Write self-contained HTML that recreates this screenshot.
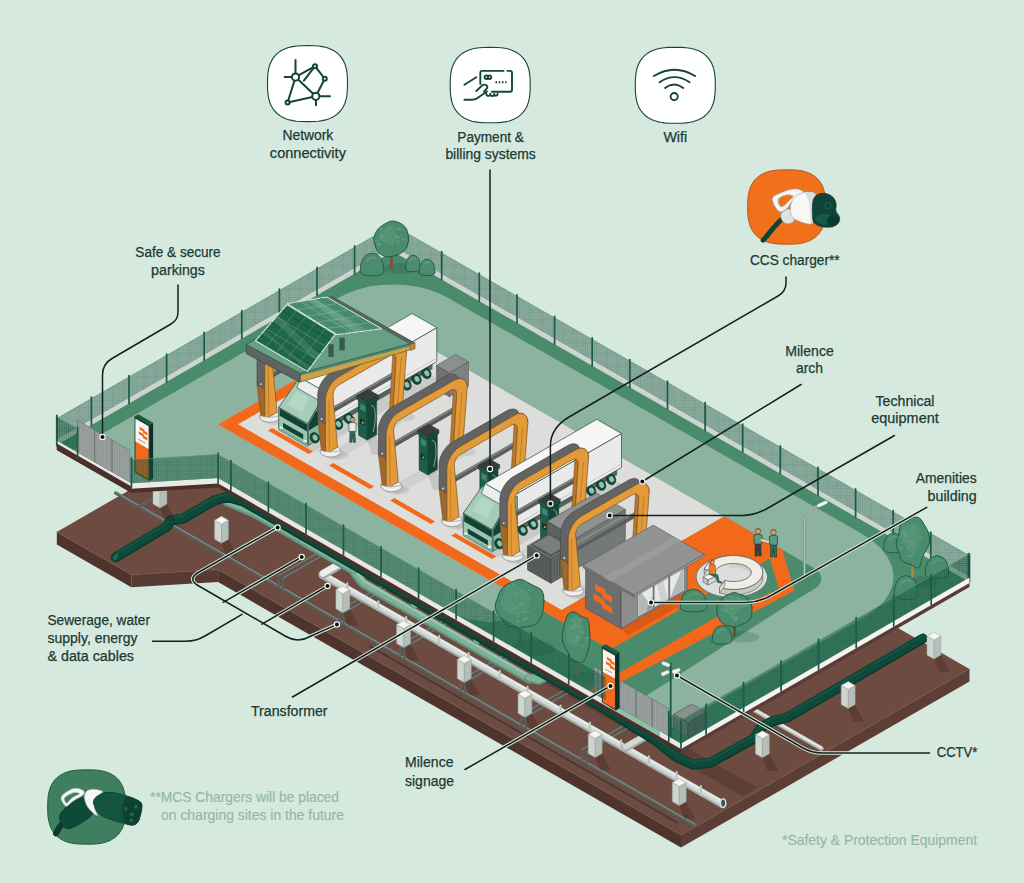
<!DOCTYPE html>
<html lang="en"><head><meta charset="utf-8"><title>Milence charging hub</title>
<style>
html,body{margin:0;padding:0;background:#d6e9df;}
body{width:1024px;height:883px;overflow:hidden;font-family:"Liberation Sans",sans-serif;}
svg{display:block}
text{font-family:"Liberation Sans",sans-serif;}
</style></head><body>
<svg width="1024" height="883" viewBox="0 0 1024 883">
<rect x="0" y="0" width="1024" height="883" fill="#d6e9df"/>
<g id="underground">
<polygon points="393.0,338.5 969.5,669.0 681.0,835.0 218.1,569.6 131.4,574.7 56.8,531.9" fill="#6d4b41" />
<polygon points="969.5,669.0 681.0,835.0 681.0,847.5 969.5,681.5" fill="#5c3e35" />
<polygon points="681.0,835.0 218.1,569.6 218.1,582.1 681.0,847.5" fill="#4f342d" />
<polygon points="218.1,569.6 131.4,574.7 131.4,587.2 218.1,582.1" fill="#573a32" />
<polygon points="131.4,574.7 56.8,531.9 56.8,544.4 131.4,587.2" fill="#4f342d" />
<polyline points="969.5,669.0 681.0,835.0 218.1,569.6 131.4,574.7 56.8,531.9" fill="none" stroke="#7a574c" stroke-width="0.6" stroke-linecap="round" stroke-linejoin="round" />
<polygon points="294.3,522.2 757.2,787.6 742.5,796.1 279.6,530.7" fill="#5d3f37" />
<polyline points="115.8,493.0 694.8,825.0" fill="none" stroke="#55625d" stroke-width="3.4" stroke-linecap="round" stroke-linejoin="round" />
<polyline points="115.8,492.1 694.8,824.1" fill="none" stroke="#8a9993" stroke-width="1.0" stroke-linecap="round" stroke-linejoin="round" />
<polyline points="369.8,646.3 677.5,822.7" fill="none" stroke="#3c3a36" stroke-width="1.6" stroke-linecap="round" stroke-linejoin="round" />
<polyline points="278.7,586.5 278.7,576.0 339.4,541.1" fill="none" stroke="#55625d" stroke-width="2.0" stroke-linecap="round" stroke-linejoin="round" />
<polyline points="278.7,575.4 339.4,540.5" fill="none" stroke="#8a9993" stroke-width="0.6" stroke-linecap="round" stroke-linejoin="round" />
<polyline points="283.1,588.9 283.1,578.4 343.7,543.5" fill="none" stroke="#55625d" stroke-width="2.0" stroke-linecap="round" stroke-linejoin="round" />
<polyline points="283.1,577.8 343.7,542.9" fill="none" stroke="#8a9993" stroke-width="0.6" stroke-linecap="round" stroke-linejoin="round" />
<polyline points="339.4,621.2 339.4,610.7 400.1,575.9" fill="none" stroke="#55625d" stroke-width="2.0" stroke-linecap="round" stroke-linejoin="round" />
<polyline points="339.4,610.1 400.1,575.3" fill="none" stroke="#8a9993" stroke-width="0.6" stroke-linecap="round" stroke-linejoin="round" />
<polyline points="343.7,623.7 343.7,613.2 404.4,578.3" fill="none" stroke="#55625d" stroke-width="2.0" stroke-linecap="round" stroke-linejoin="round" />
<polyline points="343.7,612.6 404.4,577.7" fill="none" stroke="#8a9993" stroke-width="0.6" stroke-linecap="round" stroke-linejoin="round" />
<polyline points="400.1,656.0 400.1,645.5 460.7,610.6" fill="none" stroke="#55625d" stroke-width="2.0" stroke-linecap="round" stroke-linejoin="round" />
<polyline points="400.1,644.9 460.7,610.0" fill="none" stroke="#8a9993" stroke-width="0.6" stroke-linecap="round" stroke-linejoin="round" />
<polyline points="404.4,658.5 404.4,648.0 465.1,613.1" fill="none" stroke="#55625d" stroke-width="2.0" stroke-linecap="round" stroke-linejoin="round" />
<polyline points="404.4,647.4 465.1,612.5" fill="none" stroke="#8a9993" stroke-width="0.6" stroke-linecap="round" stroke-linejoin="round" />
<polyline points="460.8,690.8 460.8,680.3 521.4,645.4" fill="none" stroke="#55625d" stroke-width="2.0" stroke-linecap="round" stroke-linejoin="round" />
<polyline points="460.8,679.7 521.4,644.8" fill="none" stroke="#8a9993" stroke-width="0.6" stroke-linecap="round" stroke-linejoin="round" />
<polyline points="465.1,693.3 465.1,682.8 525.8,647.9" fill="none" stroke="#55625d" stroke-width="2.0" stroke-linecap="round" stroke-linejoin="round" />
<polyline points="465.1,682.2 525.8,647.3" fill="none" stroke="#8a9993" stroke-width="0.6" stroke-linecap="round" stroke-linejoin="round" />
<polyline points="521.5,725.6 521.5,715.1 582.1,680.2" fill="none" stroke="#55625d" stroke-width="2.0" stroke-linecap="round" stroke-linejoin="round" />
<polyline points="521.5,714.5 582.1,679.6" fill="none" stroke="#8a9993" stroke-width="0.6" stroke-linecap="round" stroke-linejoin="round" />
<polyline points="525.8,728.1 525.8,717.6 586.4,682.7" fill="none" stroke="#55625d" stroke-width="2.0" stroke-linecap="round" stroke-linejoin="round" />
<polyline points="525.8,717.0 586.4,682.1" fill="none" stroke="#8a9993" stroke-width="0.6" stroke-linecap="round" stroke-linejoin="round" />
<polyline points="582.1,760.4 582.1,749.9 642.8,715.0" fill="none" stroke="#55625d" stroke-width="2.0" stroke-linecap="round" stroke-linejoin="round" />
<polyline points="582.1,749.3 642.8,714.4" fill="none" stroke="#8a9993" stroke-width="0.6" stroke-linecap="round" stroke-linejoin="round" />
<polyline points="586.5,762.9 586.5,752.4 647.1,717.5" fill="none" stroke="#55625d" stroke-width="2.0" stroke-linecap="round" stroke-linejoin="round" />
<polyline points="586.5,751.8 647.1,716.9" fill="none" stroke="#8a9993" stroke-width="0.6" stroke-linecap="round" stroke-linejoin="round" />
<polyline points="139.2,506.4 156.5,496.5" fill="none" stroke="#55625d" stroke-width="3.0" stroke-linecap="round" stroke-linejoin="round" />
<polyline points="322.9,575.3 722.6,804.4" fill="none" stroke="#a3aea9" stroke-width="7.8" stroke-linecap="round" stroke-linejoin="round" />
<polyline points="322.9,574.2 722.6,803.3" fill="none" stroke="#d2d8d5" stroke-width="5.6" stroke-linecap="round" stroke-linejoin="round" />
<polyline points="322.9,572.7 722.6,801.8" fill="none" stroke="#e9eceb" stroke-width="1.8" stroke-linecap="round" stroke-linejoin="round" />
<polyline points="347.2,592.2 347.2,583.4" fill="none" stroke="#b9c9c1" stroke-width="2.2" stroke-linecap="round" stroke-linejoin="round" />
<polyline points="378.4,610.1 378.4,601.3" fill="none" stroke="#b9c9c1" stroke-width="2.2" stroke-linecap="round" stroke-linejoin="round" />
<polyline points="406.1,626.0 406.1,617.2" fill="none" stroke="#b9c9c1" stroke-width="2.2" stroke-linecap="round" stroke-linejoin="round" />
<polyline points="439.1,644.9 439.1,636.1" fill="none" stroke="#b9c9c1" stroke-width="2.2" stroke-linecap="round" stroke-linejoin="round" />
<polyline points="468.6,661.8 468.6,653.0" fill="none" stroke="#b9c9c1" stroke-width="2.2" stroke-linecap="round" stroke-linejoin="round" />
<polyline points="499.8,679.6 499.8,670.8" fill="none" stroke="#b9c9c1" stroke-width="2.2" stroke-linecap="round" stroke-linejoin="round" />
<polyline points="527.5,695.6 527.5,686.8" fill="none" stroke="#b9c9c1" stroke-width="2.2" stroke-linecap="round" stroke-linejoin="round" />
<polyline points="560.5,714.4 560.5,705.6" fill="none" stroke="#b9c9c1" stroke-width="2.2" stroke-linecap="round" stroke-linejoin="round" />
<polyline points="589.9,731.3 589.9,722.5" fill="none" stroke="#b9c9c1" stroke-width="2.2" stroke-linecap="round" stroke-linejoin="round" />
<polyline points="621.1,749.2 621.1,740.4" fill="none" stroke="#b9c9c1" stroke-width="2.2" stroke-linecap="round" stroke-linejoin="round" />
<polyline points="648.9,765.1 648.9,756.3" fill="none" stroke="#b9c9c1" stroke-width="2.2" stroke-linecap="round" stroke-linejoin="round" />
<polyline points="676.6,781.0 676.6,772.2" fill="none" stroke="#b9c9c1" stroke-width="2.2" stroke-linecap="round" stroke-linejoin="round" />
<polyline points="700.9,795.0 700.9,786.2" fill="none" stroke="#b9c9c1" stroke-width="2.2" stroke-linecap="round" stroke-linejoin="round" />
<polyline points="322.9,574.5 337.7,566.0" fill="none" stroke="#a3aea9" stroke-width="9" stroke-linecap="round" stroke-linejoin="round" />
<polyline points="322.9,573.5 337.7,565.0" fill="none" stroke="#eceeed" stroke-width="6.5" stroke-linecap="round" stroke-linejoin="round" />
<polyline points="625.5,747.9 648.9,734.5" fill="none" stroke="#a3aea9" stroke-width="8" stroke-linecap="round" stroke-linejoin="round" />
<polyline points="625.5,746.9 648.9,733.5" fill="none" stroke="#d2d8d5" stroke-width="5.5" stroke-linecap="round" stroke-linejoin="round" />
<ellipse cx="723.1" cy="803.1" rx="2.6" ry="4.2" fill="#3d5a50" stroke="#dfe5e2" stroke-width="1.3"/>
<polyline points="752.0,708.8 821.3,748.5" fill="none" stroke="#a3aea9" stroke-width="4.6" stroke-linecap="round" stroke-linejoin="round" />
<polyline points="752.0,708.0 821.3,747.7" fill="none" stroke="#dfe4e1" stroke-width="2.8" stroke-linecap="round" stroke-linejoin="round" />
<polyline points="226.7,501.4 252.7,512.3 352.4,569.5 357.6,576.4 363.7,583.9 529.2,678.8" fill="none" stroke="#5f957d" stroke-width="9.5" stroke-linecap="round" stroke-linejoin="round" />
<polyline points="226.7,500.4 252.7,511.3 352.4,568.5 357.6,575.4 363.7,582.9 529.2,677.8" fill="none" stroke="#7fb09a" stroke-width="7.0" stroke-linecap="round" stroke-linejoin="round" />
<polyline points="226.7,498.4 252.7,509.3 352.4,566.5 357.6,573.4 363.7,580.9 529.2,675.8" fill="none" stroke="#9cc6b2" stroke-width="2.0" stroke-linecap="round" stroke-linejoin="round" />
<polyline points="297.8,537.2 297.8,515.2" fill="none" stroke="#5f957d" stroke-width="8.5" stroke-linecap="round" stroke-linejoin="round" stroke-linecap="butt"/>
<polyline points="297.8,537.2 297.8,515.2" fill="none" stroke="#7fb09a" stroke-width="6.5" stroke-linecap="round" stroke-linejoin="round" stroke-linecap="butt"/>
<polyline points="354.1,569.5 354.1,547.5" fill="none" stroke="#5f957d" stroke-width="8.5" stroke-linecap="round" stroke-linejoin="round" stroke-linecap="butt"/>
<polyline points="354.1,569.5 354.1,547.5" fill="none" stroke="#7fb09a" stroke-width="6.5" stroke-linecap="round" stroke-linejoin="round" stroke-linecap="butt"/>
<polyline points="414.8,604.2 414.8,582.2" fill="none" stroke="#5f957d" stroke-width="8.5" stroke-linecap="round" stroke-linejoin="round" stroke-linecap="butt"/>
<polyline points="414.8,604.2 414.8,582.2" fill="none" stroke="#7fb09a" stroke-width="6.5" stroke-linecap="round" stroke-linejoin="round" stroke-linecap="butt"/>
<polyline points="477.2,640.0 477.2,618.0" fill="none" stroke="#5f957d" stroke-width="8.5" stroke-linecap="round" stroke-linejoin="round" stroke-linecap="butt"/>
<polyline points="477.2,640.0 477.2,618.0" fill="none" stroke="#7fb09a" stroke-width="6.5" stroke-linecap="round" stroke-linejoin="round" stroke-linecap="butt"/>
<polyline points="537.0,674.3 537.0,652.3" fill="none" stroke="#5f957d" stroke-width="8.5" stroke-linecap="round" stroke-linejoin="round" stroke-linecap="butt"/>
<polyline points="537.0,674.3 537.0,652.3" fill="none" stroke="#7fb09a" stroke-width="6.5" stroke-linecap="round" stroke-linejoin="round" stroke-linecap="butt"/>
<polyline points="529.2,677.8 538.8,680.3 547.4,676.3 552.6,669.3" fill="none" stroke="#5f957d" stroke-width="9" stroke-linecap="round" stroke-linejoin="round" />
<polyline points="529.2,677.3 538.8,679.8 547.4,675.8 552.6,669.3" fill="none" stroke="#7fb09a" stroke-width="6.5" stroke-linecap="round" stroke-linejoin="round" />
<polyline points="115.8,557.2 166.9,526.8 170.4,520.8 182.5,518.8 214.6,500.4 227.6,496.9 243.6,501.6 290.4,528.5 604.2,708.4 654.1,739.4 677.5,757.8 693.1,764.8 710.4,762.8 753.7,738.8 760.7,727.9 771.1,721.9 787.5,717.4 922.7,638.7" fill="none" stroke="#0a3a2d" stroke-width="10.0" stroke-linecap="round" stroke-linejoin="round" />
<polyline points="115.8,556.4 166.9,526.0 170.4,520.0 182.5,518.0 214.6,499.6 227.6,496.1 243.6,500.8 290.4,527.7 604.2,707.6 654.1,738.6 677.5,757.0 693.1,764.0 710.4,762.0 753.7,738.0 760.7,727.1 771.1,721.1 787.5,716.6 922.7,637.9" fill="none" stroke="#0e4a3a" stroke-width="8.2" stroke-linecap="round" stroke-linejoin="round" />
<polyline points="115.8,554.2 166.9,523.8 170.4,517.8 182.5,515.8 214.6,497.4 227.6,493.9 243.6,498.6 290.4,525.5 604.2,705.4 654.1,736.4 677.5,754.8 693.1,761.8 710.4,759.8 753.7,735.8 760.7,724.9 771.1,718.9 787.5,714.4 922.7,635.7" fill="none" stroke="#155a46" stroke-width="1.2" stroke-linecap="round" stroke-linejoin="round" />
<ellipse cx="115.8" cy="556.7" rx="2.6" ry="4.3" fill="#1d6a54" stroke="#0a3a2d" stroke-width="0.8" transform="rotate(30 115.8 556.7)"/>
<polygon points="160.0,507.9 165.2,520.9 175.6,520.8 166.9,503.9" fill="rgba(40,20,15,0.25)" />
<polygon points="153.0,503.9 160.0,507.9 160.0,488.9 153.0,484.9" fill="#cfd6d2" stroke="#9aa6a0" stroke-width="0.5" stroke-linejoin="round" />
<polygon points="166.9,503.9 160.0,507.9 160.0,488.9 166.9,484.9" fill="#b5beb9" stroke="#9aa6a0" stroke-width="0.5" stroke-linejoin="round" />
<polygon points="160.0,481.0 166.9,484.9 160.0,488.9 153.0,484.9" fill="#f4f5f4" stroke="#9aa6a0" stroke-width="0.5" stroke-linejoin="round" />
<polygon points="221.5,543.2 226.7,556.1 237.1,556.1 228.4,539.2" fill="rgba(40,20,15,0.25)" />
<polygon points="214.6,539.2 221.5,543.2 221.5,524.2 214.6,520.2" fill="#cfd6d2" stroke="#9aa6a0" stroke-width="0.5" stroke-linejoin="round" />
<polygon points="228.4,539.2 221.5,543.2 221.5,524.2 228.4,520.2" fill="#b5beb9" stroke="#9aa6a0" stroke-width="0.5" stroke-linejoin="round" />
<polygon points="221.5,516.2 228.4,520.2 221.5,524.2 214.6,520.2" fill="#f4f5f4" stroke="#9aa6a0" stroke-width="0.5" stroke-linejoin="round" />
<polygon points="342.9,612.8 348.1,625.7 358.5,625.7 349.8,608.8" fill="rgba(40,20,15,0.25)" />
<polygon points="335.9,608.8 342.9,612.8 342.9,593.8 335.9,589.8" fill="#cfd6d2" stroke="#9aa6a0" stroke-width="0.5" stroke-linejoin="round" />
<polygon points="349.8,608.8 342.9,612.8 342.9,593.8 349.8,589.8" fill="#b5beb9" stroke="#9aa6a0" stroke-width="0.5" stroke-linejoin="round" />
<polygon points="342.9,585.8 349.8,589.8 342.9,593.8 335.9,589.8" fill="#f4f5f4" stroke="#9aa6a0" stroke-width="0.5" stroke-linejoin="round" />
<polygon points="403.6,647.6 408.8,660.5 419.2,660.5 410.5,643.6" fill="rgba(40,20,15,0.25)" />
<polygon points="396.6,643.6 403.6,647.6 403.6,628.6 396.6,624.6" fill="#cfd6d2" stroke="#9aa6a0" stroke-width="0.5" stroke-linejoin="round" />
<polygon points="410.5,643.6 403.6,647.6 403.6,628.6 410.5,624.6" fill="#b5beb9" stroke="#9aa6a0" stroke-width="0.5" stroke-linejoin="round" />
<polygon points="403.6,620.6 410.5,624.6 403.6,628.6 396.6,624.6" fill="#f4f5f4" stroke="#9aa6a0" stroke-width="0.5" stroke-linejoin="round" />
<polygon points="464.2,682.4 469.4,695.3 479.8,695.3 471.2,678.4" fill="rgba(40,20,15,0.25)" />
<polygon points="457.3,678.4 464.2,682.4 464.2,663.4 457.3,659.4" fill="#cfd6d2" stroke="#9aa6a0" stroke-width="0.5" stroke-linejoin="round" />
<polygon points="471.2,678.4 464.2,682.4 464.2,663.4 471.2,659.4" fill="#b5beb9" stroke="#9aa6a0" stroke-width="0.5" stroke-linejoin="round" />
<polygon points="464.2,655.4 471.2,659.4 464.2,663.4 457.3,659.4" fill="#f4f5f4" stroke="#9aa6a0" stroke-width="0.5" stroke-linejoin="round" />
<polygon points="524.9,717.2 530.1,730.1 540.5,730.1 531.9,713.2" fill="rgba(40,20,15,0.25)" />
<polygon points="518.0,713.2 524.9,717.2 524.9,698.2 518.0,694.2" fill="#cfd6d2" stroke="#9aa6a0" stroke-width="0.5" stroke-linejoin="round" />
<polygon points="531.9,713.2 524.9,717.2 524.9,698.2 531.9,694.2" fill="#b5beb9" stroke="#9aa6a0" stroke-width="0.5" stroke-linejoin="round" />
<polygon points="524.9,690.2 531.9,694.2 524.9,698.2 518.0,694.2" fill="#f4f5f4" stroke="#9aa6a0" stroke-width="0.5" stroke-linejoin="round" />
<polygon points="595.1,757.4 600.3,770.4 610.7,770.3 602.1,753.4" fill="rgba(40,20,15,0.25)" />
<polygon points="588.2,753.4 595.1,757.4 595.1,738.4 588.2,734.4" fill="#cfd6d2" stroke="#9aa6a0" stroke-width="0.5" stroke-linejoin="round" />
<polygon points="602.1,753.4 595.1,757.4 595.1,738.4 602.1,734.4" fill="#b5beb9" stroke="#9aa6a0" stroke-width="0.5" stroke-linejoin="round" />
<polygon points="595.1,730.5 602.1,734.4 595.1,738.4 588.2,734.4" fill="#f4f5f4" stroke="#9aa6a0" stroke-width="0.5" stroke-linejoin="round" />
<polygon points="679.2,805.6 684.4,818.6 694.8,818.6 686.2,801.6" fill="rgba(40,20,15,0.25)" />
<polygon points="672.3,801.6 679.2,805.6 679.2,786.6 672.3,782.6" fill="#cfd6d2" stroke="#9aa6a0" stroke-width="0.5" stroke-linejoin="round" />
<polygon points="686.2,801.6 679.2,805.6 679.2,786.6 686.2,782.6" fill="#b5beb9" stroke="#9aa6a0" stroke-width="0.5" stroke-linejoin="round" />
<polygon points="679.2,778.7 686.2,782.6 679.2,786.6 672.3,782.6" fill="#f4f5f4" stroke="#9aa6a0" stroke-width="0.5" stroke-linejoin="round" />
<polygon points="934.0,659.1 939.2,672.0 949.6,672.0 940.9,655.1" fill="rgba(40,20,15,0.25)" />
<polygon points="927.0,655.1 934.0,659.1 934.0,640.1 927.0,636.1" fill="#cfd6d2" stroke="#9aa6a0" stroke-width="0.5" stroke-linejoin="round" />
<polygon points="940.9,655.1 934.0,659.1 934.0,640.1 940.9,636.1" fill="#b5beb9" stroke="#9aa6a0" stroke-width="0.5" stroke-linejoin="round" />
<polygon points="933.9,632.1 940.9,636.1 934.0,640.1 927.0,636.1" fill="#f4f5f4" stroke="#9aa6a0" stroke-width="0.5" stroke-linejoin="round" />
<polygon points="848.2,708.4 853.4,721.4 863.8,721.3 855.1,704.4" fill="rgba(40,20,15,0.25)" />
<polygon points="841.2,704.4 848.2,708.4 848.2,689.4 841.2,685.4" fill="#cfd6d2" stroke="#9aa6a0" stroke-width="0.5" stroke-linejoin="round" />
<polygon points="855.1,704.4 848.2,708.4 848.2,689.4 855.1,685.4" fill="#b5beb9" stroke="#9aa6a0" stroke-width="0.5" stroke-linejoin="round" />
<polygon points="848.2,681.5 855.1,685.4 848.2,689.4 841.2,685.4" fill="#f4f5f4" stroke="#9aa6a0" stroke-width="0.5" stroke-linejoin="round" />
<polygon points="762.4,757.8 767.6,770.7 778.0,770.7 769.3,753.8" fill="rgba(40,20,15,0.25)" />
<polygon points="755.5,753.8 762.4,757.8 762.4,738.8 755.5,734.8" fill="#cfd6d2" stroke="#9aa6a0" stroke-width="0.5" stroke-linejoin="round" />
<polygon points="769.3,753.8 762.4,757.8 762.4,738.8 769.3,734.8" fill="#b5beb9" stroke="#9aa6a0" stroke-width="0.5" stroke-linejoin="round" />
<polygon points="762.4,730.8 769.3,734.8 762.4,738.8 755.5,734.8" fill="#f4f5f4" stroke="#9aa6a0" stroke-width="0.5" stroke-linejoin="round" />
</g>
<g id="platform">
<polygon points="969.5,577.5 681.0,743.5 681.0,753.0 969.5,587.0" fill="#5a3c33" />
<polygon points="681.0,743.5 218.1,478.1 218.1,487.6 681.0,753.0" fill="#4a3029" />
<polygon points="218.1,478.1 131.4,483.2 131.4,492.7 218.1,487.6" fill="#4a3029" />
<polygon points="131.4,483.2 56.8,440.4 56.8,449.9 131.4,492.7" fill="#4a3029" />
<polygon points="393.0,247.0 969.5,577.5 681.0,743.5 218.1,478.1 131.4,483.2 56.8,440.4" fill="#4a8b6c" />
<polygon points="73.7,450.1 131.4,483.2 218.1,478.1 455.6,614.3 467.7,619.3 488.5,622.2 513.7,619.7 539.6,612.7 544.0,611.2 218.0,424.4 390.4,325.1 783.1,550.3 813.5,567.7 813.5,567.7 816.8,570.0 819.3,572.7 820.9,575.6 821.4,578.6 820.9,581.7 819.3,584.6 816.8,587.2 813.5,589.6 811.8,590.6 789.7,603.8 648.0,694.8 622.0,709.7 662.8,733.1 865.5,616.4 865.5,616.4 875.6,609.6 883.6,601.9 889.3,593.5 892.7,584.6 893.6,575.5 891.9,566.3 887.8,557.4 881.3,548.8 872.7,540.9 862.0,533.8 446.8,297.2 446.8,297.2 437.7,292.8 427.5,289.2 416.5,286.6 404.9,285.0 393.0,284.5 381.1,285.0 369.5,286.6 358.5,289.3 348.4,292.9 339.3,297.3 73.7,450.1" fill="#8bb39f" />
<polygon points="390.4,325.1 724.2,516.5 551.8,615.7 218.0,424.4" fill="#dddddc" />
<polygon points="392.7,416.0 403.1,422.0 337.2,459.8 326.8,453.9" fill="#cfcfce" />
<polygon points="453.3,450.8 463.7,456.7 397.9,494.6 387.5,488.7" fill="#cfcfce" />
<polygon points="514.0,485.6 524.4,491.5 458.6,529.4 448.2,523.5" fill="#cfcfce" />
<polygon points="574.7,520.4 585.1,526.3 519.3,564.2 508.9,558.2" fill="#cfcfce" />
<polygon points="635.4,555.1 645.8,561.1 579.9,599.0 569.5,593.0" fill="#cfcfce" />
<polygon points="218.0,424.4 610.7,649.5 620.7,643.8 238.0,424.3 305.1,385.7 295.1,380.0" fill="#f2691c" />
<polygon points="267.9,430.5 308.6,453.9 312.9,451.4 272.2,428.0" fill="#f2691c" />
<polygon points="329.0,465.6 369.7,488.9 374.1,486.4 333.3,463.1" fill="#f2691c" />
<polygon points="390.1,500.6 430.8,524.0 435.2,521.5 394.4,498.1" fill="#f2691c" />
<polygon points="451.2,535.6 492.0,559.0 496.3,556.5 455.5,533.2" fill="#f2691c" />
<polygon points="724.2,516.5 782.3,549.8 794.4,590.6 626.3,679.3 597.8,695.8 505.0,642.6 551.8,615.7" fill="#f2691c" />
<polygon points="769.9,558.6 778.8,589.4 740.7,605.6 712.5,619.3 588.7,690.6 563.9,676.4 696.5,600.1" fill="#4a8b6c" />
<polygon points="543.5,611.5 612.9,651.2 566.5,677.9 455.6,614.3 467.7,619.3 488.5,622.2 513.7,619.7 539.6,612.7" fill="#4a8b6c" />
</g>
<defs>
<pattern id="mesh" width="2.2" height="2.2" patternUnits="userSpaceOnUse">
<rect width="2.2" height="2.2" fill="rgba(80,122,106,0.54)"/>
<path d="M0 0H2.2M0 0V2.2" stroke="rgba(20,80,60,0.35)" stroke-width="0.55"/>
</pattern>
<pattern id="meshf" width="2.2" height="2.2" patternUnits="userSpaceOnUse">
<rect width="2.2" height="2.2" fill="rgba(20,90,65,0.42)"/>
<path d="M0 0H2.2M0 0V2.2" stroke="rgba(10,60,45,0.4)" stroke-width="0.55"/>
</pattern>
</defs>
<g id="backfences">
<polygon points="56.8,445.0 393.0,251.6 393.0,246.4 56.8,439.8" fill="#cdd3cf" />
<polyline points="56.8,439.8 393.0,246.4" fill="none" stroke="#eef1ef" stroke-width="0.8" stroke-linecap="round" stroke-linejoin="round" />
<polygon points="56.8,439.8 393.0,246.4 393.0,225.2 56.8,418.6" fill="url(#mesh)" />
<polyline points="56.8,418.6 393.0,225.2" fill="none" stroke="#5b8f7b" stroke-width="0.7" stroke-linecap="round" stroke-linejoin="round" />
<polyline points="354.6,273.7 354.6,245.8" fill="none" stroke="#1b5a45" stroke-width="1.7" stroke-linecap="round" stroke-linejoin="round" stroke-linecap="butt"/>
<polyline points="317.0,295.3 317.0,267.4" fill="none" stroke="#1b5a45" stroke-width="1.7" stroke-linecap="round" stroke-linejoin="round" stroke-linecap="butt"/>
<polyline points="279.4,317.0 279.4,289.1" fill="none" stroke="#1b5a45" stroke-width="1.7" stroke-linecap="round" stroke-linejoin="round" stroke-linecap="butt"/>
<polyline points="241.8,338.6 241.8,310.7" fill="none" stroke="#1b5a45" stroke-width="1.7" stroke-linecap="round" stroke-linejoin="round" stroke-linecap="butt"/>
<polyline points="204.2,360.2 204.2,332.3" fill="none" stroke="#1b5a45" stroke-width="1.7" stroke-linecap="round" stroke-linejoin="round" stroke-linecap="butt"/>
<polyline points="166.6,381.9 166.6,354.0" fill="none" stroke="#1b5a45" stroke-width="1.7" stroke-linecap="round" stroke-linejoin="round" stroke-linecap="butt"/>
<polyline points="129.0,403.5 129.0,375.6" fill="none" stroke="#1b5a45" stroke-width="1.7" stroke-linecap="round" stroke-linejoin="round" stroke-linecap="butt"/>
<polyline points="91.4,425.1 91.4,397.2" fill="none" stroke="#1b5a45" stroke-width="1.7" stroke-linecap="round" stroke-linejoin="round" stroke-linecap="butt"/>
<polyline points="56.8,445.0 56.8,417.1" fill="none" stroke="#1b5a45" stroke-width="1.7" stroke-linecap="round" stroke-linejoin="round" stroke-linecap="butt"/>
<polygon points="393.0,251.6 969.5,582.1 969.5,576.9 393.0,246.4" fill="#cdd3cf" />
<polyline points="393.0,246.4 969.5,576.9" fill="none" stroke="#eef1ef" stroke-width="0.8" stroke-linecap="round" stroke-linejoin="round" />
<polygon points="393.0,246.4 969.5,576.9 969.5,555.7 393.0,225.2" fill="url(#mesh)" />
<polyline points="393.0,225.2 969.5,555.7" fill="none" stroke="#5b8f7b" stroke-width="0.7" stroke-linecap="round" stroke-linejoin="round" />
<polyline points="441.7,279.5 441.7,251.6" fill="none" stroke="#1b5a45" stroke-width="1.7" stroke-linecap="round" stroke-linejoin="round" stroke-linecap="butt"/>
<polyline points="479.3,301.1 479.3,273.2" fill="none" stroke="#1b5a45" stroke-width="1.7" stroke-linecap="round" stroke-linejoin="round" stroke-linecap="butt"/>
<polyline points="517.0,322.7 517.0,294.8" fill="none" stroke="#1b5a45" stroke-width="1.7" stroke-linecap="round" stroke-linejoin="round" stroke-linecap="butt"/>
<polyline points="554.6,344.2 554.6,316.3" fill="none" stroke="#1b5a45" stroke-width="1.7" stroke-linecap="round" stroke-linejoin="round" stroke-linecap="butt"/>
<polyline points="592.2,365.8 592.2,337.9" fill="none" stroke="#1b5a45" stroke-width="1.7" stroke-linecap="round" stroke-linejoin="round" stroke-linecap="butt"/>
<polyline points="629.8,387.4 629.8,359.5" fill="none" stroke="#1b5a45" stroke-width="1.7" stroke-linecap="round" stroke-linejoin="round" stroke-linecap="butt"/>
<polyline points="667.5,409.0 667.5,381.1" fill="none" stroke="#1b5a45" stroke-width="1.7" stroke-linecap="round" stroke-linejoin="round" stroke-linecap="butt"/>
<polyline points="705.1,430.5 705.1,402.6" fill="none" stroke="#1b5a45" stroke-width="1.7" stroke-linecap="round" stroke-linejoin="round" stroke-linecap="butt"/>
<polyline points="742.7,452.1 742.7,424.2" fill="none" stroke="#1b5a45" stroke-width="1.7" stroke-linecap="round" stroke-linejoin="round" stroke-linecap="butt"/>
<polyline points="780.3,473.7 780.3,445.8" fill="none" stroke="#1b5a45" stroke-width="1.7" stroke-linecap="round" stroke-linejoin="round" stroke-linecap="butt"/>
<polyline points="818.0,495.2 818.0,467.3" fill="none" stroke="#1b5a45" stroke-width="1.7" stroke-linecap="round" stroke-linejoin="round" stroke-linecap="butt"/>
<polyline points="855.6,516.8 855.6,488.9" fill="none" stroke="#1b5a45" stroke-width="1.7" stroke-linecap="round" stroke-linejoin="round" stroke-linecap="butt"/>
<polyline points="893.2,538.4 893.2,510.5" fill="none" stroke="#1b5a45" stroke-width="1.7" stroke-linecap="round" stroke-linejoin="round" stroke-linecap="butt"/>
<polyline points="930.8,559.9 930.8,532.0" fill="none" stroke="#1b5a45" stroke-width="1.7" stroke-linecap="round" stroke-linejoin="round" stroke-linecap="butt"/>
<polyline points="968.4,581.5 968.4,553.6" fill="none" stroke="#1b5a45" stroke-width="1.7" stroke-linecap="round" stroke-linejoin="round" stroke-linecap="butt"/>
<polyline points="969.5,582.1 969.5,554.2" fill="none" stroke="#1b5a45" stroke-width="1.7" stroke-linecap="round" stroke-linejoin="round" stroke-linecap="butt"/>
</g>
<g id="objects">
<path d="M360.0,272.2 Q360.0,254.1 372.0,253.0 Q384.0,254.1 384.0,272.2 Q381.6,276.1 372.0,275.9 Q362.4,276.1 360.0,272.2 Z" fill="#4c8c6e" stroke="#1f5a44" stroke-width="0.9" stroke-linecap="round" stroke-linejoin="round" />
<path d="M366.6,261.8 Q370.8,255.8 376.2,257.9" fill="none" stroke="#6aa58a" stroke-width="1.6" stroke-linecap="round" stroke-linejoin="round" opacity="0.6"/>
<ellipse cx="400.5" cy="268.5" rx="16.2" ry="5.8" fill="rgba(20,60,45,0.18)" />
<path d="M391.5,267.5 L391.5,253.5" fill="none" stroke="#8a4a3a" stroke-width="2.6" stroke-linecap="round" stroke-linejoin="round" />
<path d="M408.4,236.7 Q408.8,239.3 408.3,241.9 Q407.7,244.4 406.8,247.0 Q405.9,249.5 403.7,251.2 Q401.6,252.9 399.1,254.0 Q396.7,255.1 394.1,255.9 Q391.5,256.7 388.6,256.9 Q385.6,257.1 383.0,255.6 Q380.5,254.2 378.4,252.1 Q376.4,250.1 375.7,247.3 Q375.0,244.5 374.2,241.9 Q373.4,239.3 374.2,236.7 Q374.9,234.0 376.3,231.7 Q377.6,229.4 379.6,227.6 Q381.5,225.8 383.8,224.5 Q386.2,223.2 388.8,221.9 Q391.5,220.6 394.4,221.2 Q397.3,221.8 399.9,223.1 Q402.5,224.4 404.6,226.5 Q406.7,228.5 407.3,231.3 Q407.9,234.1 408.4,236.7Z" fill="#4c8c6e" stroke="#1f5a44" stroke-width="1.0" stroke-linecap="round" stroke-linejoin="round" />
<path d="M396.6,233.4 Q398.5,235.7 396.9,238.2 Q395.3,240.7 393.1,243.5 Q390.8,246.3 387.8,244.2 Q384.8,242.1 381.6,240.6 Q378.4,239.2 379.0,235.9 Q379.5,232.6 382.2,231.0 Q384.8,229.4 387.8,227.7 Q390.7,225.9 392.7,228.5 Q394.8,231.1 396.6,233.4Z" fill="#6aa58a" opacity="0.30"/>
<ellipse cx="382.0" cy="235.0" rx="2.4" ry="1.0" fill="#6aa58a" opacity="0.5"/>
<ellipse cx="381.6" cy="237.0" rx="1.7" ry="1.7" fill="#6aa58a" opacity="0.5"/>
<ellipse cx="397.7" cy="243.3" rx="1.4" ry="1.0" fill="#6aa58a" opacity="0.5"/>
<ellipse cx="398.3" cy="237.4" rx="2.0" ry="1.1" fill="#6aa58a" opacity="0.5"/>
<ellipse cx="388.9" cy="227.9" rx="1.3" ry="1.1" fill="#6aa58a" opacity="0.5"/>
<ellipse cx="379.3" cy="244.5" rx="1.9" ry="0.9" fill="#6aa58a" opacity="0.5"/>
<ellipse cx="386.4" cy="230.5" rx="1.8" ry="0.9" fill="#6aa58a" opacity="0.5"/>
<ellipse cx="379.2" cy="244.3" rx="1.8" ry="1.5" fill="#6aa58a" opacity="0.5"/>
<ellipse cx="390.5" cy="226.5" rx="2.0" ry="1.1" fill="#6aa58a" opacity="0.5"/>
<ellipse cx="380.7" cy="228.9" rx="1.2" ry="1.6" fill="#6aa58a" opacity="0.5"/>
<ellipse cx="386.5" cy="241.5" rx="1.2" ry="1.0" fill="#6aa58a" opacity="0.5"/>
<ellipse cx="398.3" cy="241.3" rx="1.7" ry="1.4" fill="#6aa58a" opacity="0.5"/>
<ellipse cx="376.4" cy="240.4" rx="2.1" ry="1.0" fill="#6aa58a" opacity="0.5"/>
<ellipse cx="398.6" cy="229.0" rx="2.5" ry="1.4" fill="#6aa58a" opacity="0.5"/>
<ellipse cx="396.4" cy="236.1" rx="1.4" ry="1.7" fill="#6aa58a" opacity="0.5"/>
<ellipse cx="403.8" cy="239.4" rx="2.5" ry="0.8" fill="#6aa58a" opacity="0.5"/>
<path d="M405.5,269.0 Q405.5,255.8 413.0,255.0 Q420.5,255.8 420.5,269.0 Q419.0,271.8 413.0,271.6 Q407.0,271.8 405.5,269.0 Z" fill="#4c8c6e" stroke="#1f5a44" stroke-width="0.9" stroke-linecap="round" stroke-linejoin="round" />
<path d="M409.6,261.4 Q412.2,257.0 415.6,258.6" fill="none" stroke="#6aa58a" stroke-width="1.6" stroke-linecap="round" stroke-linejoin="round" opacity="0.6"/>
<path d="M419.0,273.0 Q419.0,259.8 427.0,259.0 Q435.0,259.8 435.0,273.0 Q433.4,275.8 427.0,275.6 Q420.6,275.8 419.0,273.0 Z" fill="#4c8c6e" stroke="#1f5a44" stroke-width="0.9" stroke-linecap="round" stroke-linejoin="round" />
<path d="M423.4,265.4 Q426.2,261.0 429.8,262.6" fill="none" stroke="#6aa58a" stroke-width="1.6" stroke-linecap="round" stroke-linejoin="round" opacity="0.6"/>
<ellipse cx="342.6" cy="382.2" rx="12.0" ry="4.5" fill="rgba(0,0,0,0.08)" />
<ellipse cx="336.6" cy="378.2" rx="10.5" ry="5.6" fill="#e9eae9" stroke="#8f9a96" stroke-width="0.8" />
<ellipse cx="275.9" cy="420.6" rx="12.0" ry="4.5" fill="rgba(0,0,0,0.08)" />
<ellipse cx="269.9" cy="416.6" rx="10.5" ry="5.6" fill="#e9eae9" stroke="#8f9a96" stroke-width="0.8" />
<polygon points="271.3,378.6 333.7,342.7 333.7,338.5 271.3,374.4" fill="#595d5c" />
<polygon points="271.3,374.4 333.7,338.5 332.0,337.5 269.6,373.4" fill="#747978" />
<polygon points="332.0,380.7 335.4,324.2 335.2,322.5 334.6,321.2 333.7,320.3 330.2,318.3 331.2,319.2 331.8,320.5 332.0,322.2 328.5,378.7" fill="#b9772b" stroke="#6b4a22" stroke-width="0.5" stroke-linejoin="round" />
<polygon points="264.8,389.3 264.8,364.8 264.8,364.8 265.3,360.7 266.6,356.3 268.6,352.0 271.3,348.1 274.5,344.8 277.8,342.4 332.8,310.7 336.2,309.3 339.3,309.0 342.0,309.8 344.1,311.7 345.4,314.6 345.8,318.2 338.0,313.7 337.6,310.1 336.3,307.3 334.2,305.3 331.5,304.5 328.4,304.8 325.0,306.2 270.0,337.9 266.7,340.3 263.5,343.6 260.8,347.6 258.8,351.9 257.5,356.2 257.0,360.4 257.0,360.4 257.0,384.9" fill="#636363" stroke="#3e4342" stroke-width="0.6" stroke-linejoin="round" />
<polygon points="264.8,419.3 264.8,389.3 257.0,384.9 260.9,417.1" fill="#a0682a" stroke="#6b4a22" stroke-width="0.5" stroke-linejoin="round" />
<polygon points="264.8,419.3 264.8,364.8 264.8,364.8 265.3,360.7 266.6,356.3 268.6,352.0 271.3,348.1 274.5,344.8 277.8,342.4 332.8,310.7 336.2,309.3 339.3,309.0 342.0,309.8 344.1,311.7 345.4,314.6 345.8,318.2 341.5,375.2 332.0,380.7 335.4,324.2 335.2,322.5 334.6,321.2 333.7,320.3 332.4,319.9 330.9,320.0 329.4,320.7 278.3,350.1 276.7,351.2 275.2,352.8 274.0,354.6 273.0,356.6 272.4,358.7 272.2,360.6 277.0,412.4" fill="#e39a38" stroke="#7a5424" stroke-width="0.7" stroke-linejoin="round" />
<polyline points="268.7,415.1 268.3,364.8" fill="none" stroke="#c27f2c" stroke-width="1.0" stroke-linecap="round" stroke-linejoin="round" />
<polyline points="336.3,376.2 340.6,323.2" fill="none" stroke="#c27f2c" stroke-width="1.0" stroke-linecap="round" stroke-linejoin="round" />
<path d="M326.1,378.2 A10.5,5.6 0 0 0 347.1,378.2 L347.1,377.2 Q336.6,380.7 326.1,377.2 Z" fill="#eeefee" stroke="#8f9a96" stroke-width="0.7" stroke-linecap="round" stroke-linejoin="round" />
<path d="M259.4,416.6 A10.5,5.6 0 0 0 280.4,416.6 L280.4,415.6 Q269.9,419.1 259.4,415.6 Z" fill="#eeefee" stroke="#8f9a96" stroke-width="0.7" stroke-linecap="round" stroke-linejoin="round" />
<circle cx="260.9" cy="384.1" r="0.9" fill="#e8e8e8"/>
<polygon points="412.1,364.5 438.6,379.6 312.9,451.9 286.5,436.7" fill="rgba(0,0,0,0.09)" />
<polygon points="432.5,369.1 324.2,431.5 324.2,425.5 432.5,363.1" fill="#55625d" />
<ellipse cx="426.4" cy="373.5" rx="4.5" ry="5.4" fill="#10483a" stroke="#0a2f26" stroke-width="0.6" transform="rotate(-27 426.4 373.5)"/>
<ellipse cx="426.9" cy="373.5" rx="2.4" ry="3.1" fill="#8fc3aa" transform="rotate(-27 426.4 373.5)"/>
<ellipse cx="416.5" cy="379.2" rx="4.5" ry="5.4" fill="#10483a" stroke="#0a2f26" stroke-width="0.6" transform="rotate(-27 416.5 379.2)"/>
<ellipse cx="417.0" cy="379.2" rx="2.4" ry="3.1" fill="#8fc3aa" transform="rotate(-27 416.5 379.2)"/>
<ellipse cx="406.5" cy="385.0" rx="4.5" ry="5.4" fill="#10483a" stroke="#0a2f26" stroke-width="0.6" transform="rotate(-27 406.5 385.0)"/>
<ellipse cx="407.0" cy="385.0" rx="2.4" ry="3.1" fill="#8fc3aa" transform="rotate(-27 406.5 385.0)"/>
<ellipse cx="348.5" cy="418.4" rx="4.5" ry="5.4" fill="#10483a" stroke="#0a2f26" stroke-width="0.6" transform="rotate(-27 348.5 418.4)"/>
<ellipse cx="349.0" cy="418.4" rx="2.4" ry="3.1" fill="#8fc3aa" transform="rotate(-27 348.5 418.4)"/>
<ellipse cx="338.1" cy="424.3" rx="4.5" ry="5.4" fill="#10483a" stroke="#0a2f26" stroke-width="0.6" transform="rotate(-27 338.1 424.3)"/>
<ellipse cx="338.6" cy="424.3" rx="2.4" ry="3.1" fill="#8fc3aa" transform="rotate(-27 338.1 424.3)"/>
<polygon points="300.4,411.8 325.1,426.0 325.1,392.0 300.4,377.8" fill="#d4d6d5" stroke="#1f4a3c" stroke-width="0.7" stroke-linejoin="round" />
<polygon points="436.8,361.6 325.1,426.0 325.1,392.0 436.8,327.6" fill="#e9eae9" stroke="#1f4a3c" stroke-width="0.7" stroke-linejoin="round" />
<polygon points="412.1,313.5 436.8,327.6 325.1,392.0 300.4,377.8" fill="#f6f6f5" stroke="#1f4a3c" stroke-width="0.7" stroke-linejoin="round" />
<polyline points="436.8,358.1 325.1,422.5" fill="none" stroke="#b7bcba" stroke-width="0.7" stroke-linecap="round" stroke-linejoin="round" />
<polygon points="332.7,431.4 308.4,445.3 308.4,423.3 324.0,395.3 332.7,390.4" fill="#86b49c" stroke="#1f4a3c" stroke-width="0.7" stroke-linejoin="round" />
<polygon points="319.7,423.8 308.9,430.6 308.9,424.1 315.4,412.3 320.6,408.3" fill="#0f4335" />
<ellipse cx="314.7" cy="437.8" rx="4.5" ry="5.4" fill="#10483a" stroke="#0a2f26" stroke-width="0.6" transform="rotate(-27 314.7 437.8)"/>
<ellipse cx="315.2" cy="437.8" rx="2.4" ry="3.1" fill="#8fc3aa" transform="rotate(-27 314.7 437.8)"/>
<polygon points="278.7,429.8 307.6,446.3 307.6,423.8 278.7,407.3" fill="#9cc6b0" stroke="#1f4a3c" stroke-width="0.7" stroke-linejoin="round" />
<polygon points="279.6,415.8 307.1,431.6 307.1,424.4 279.6,408.6" fill="#0f4335" />
<polygon points="283.0,427.8 303.2,439.3 303.2,434.3 283.0,422.8" fill="#0f4335" />
<polygon points="278.7,429.8 307.6,446.3 307.6,443.6 278.7,427.1" fill="#7dad95" />
<ellipse cx="305.0" cy="441.1" rx="1.8" ry="1.2" fill="#f3f6e8"/>
<ellipse cx="281.3" cy="427.6" rx="1.8" ry="1.2" fill="#f3f6e8"/>
<polygon points="278.7,407.3 307.6,423.8 324.0,395.3 297.8,380.3" fill="#a4ccb7" stroke="#1f4a3c" stroke-width="0.7" stroke-linejoin="round" />
<polygon points="287.4,404.3 302.4,412.9 309.3,397.9 296.9,390.8" fill="#b4d6c4" />
<polygon points="296.9,387.8 321.6,401.9 325.1,392.0 300.4,377.8" fill="#ecedec" stroke="#1f4a3c" stroke-width="0.6" stroke-linejoin="round" />
<polygon points="325.1,392.0 321.6,401.9 325.1,404.0" fill="#d9dcda" stroke="#1f4a3c" stroke-width="0.5" stroke-linejoin="round" />
<ellipse cx="403.3" cy="417.0" rx="12.0" ry="4.5" fill="rgba(0,0,0,0.08)" />
<ellipse cx="397.3" cy="413.0" rx="10.5" ry="5.6" fill="#e9eae9" stroke="#8f9a96" stroke-width="0.8" />
<ellipse cx="336.6" cy="455.3" rx="12.0" ry="4.5" fill="rgba(0,0,0,0.08)" />
<ellipse cx="330.6" cy="451.3" rx="10.5" ry="5.6" fill="#e9eae9" stroke="#8f9a96" stroke-width="0.8" />
<polygon points="332.0,413.4 394.4,377.5 394.4,373.3 332.0,409.2" fill="#595d5c" />
<polygon points="332.0,409.2 394.4,373.3 392.6,372.3 330.3,408.2" fill="#747978" />
<polygon points="392.7,415.5 396.1,359.0 395.9,357.3 395.3,356.0 394.3,355.1 390.9,353.1 391.8,354.0 392.4,355.3 392.6,357.0 389.2,413.5" fill="#b9772b" stroke="#6b4a22" stroke-width="0.5" stroke-linejoin="round" />
<polygon points="325.5,424.1 325.5,399.6 325.5,399.6 325.9,395.5 327.2,391.1 329.3,386.8 332.0,382.9 335.1,379.6 338.5,377.1 393.5,345.5 396.9,344.1 400.0,343.8 402.7,344.6 404.8,346.5 406.1,349.4 406.5,353.0 398.7,348.5 398.3,344.9 397.0,342.0 394.9,340.1 392.2,339.3 389.1,339.6 385.7,341.0 330.7,372.7 327.3,375.1 324.2,378.4 321.5,382.4 319.4,386.6 318.1,391.0 317.7,395.1 317.7,395.1 317.7,419.6" fill="#636363" stroke="#3e4342" stroke-width="0.6" stroke-linejoin="round" />
<polygon points="325.5,454.1 325.5,424.1 317.7,419.6 321.6,451.9" fill="#a0682a" stroke="#6b4a22" stroke-width="0.5" stroke-linejoin="round" />
<polygon points="325.5,454.1 325.5,399.6 325.5,399.6 325.9,395.5 327.2,391.1 329.3,386.8 332.0,382.9 335.1,379.6 338.5,377.1 393.5,345.5 396.9,344.1 400.0,343.8 402.7,344.6 404.8,346.5 406.1,349.4 406.5,353.0 402.2,410.0 392.7,415.5 396.1,359.0 395.9,357.3 395.3,356.0 394.3,355.1 393.1,354.7 391.6,354.8 390.1,355.5 338.9,384.9 337.4,386.0 335.9,387.6 334.6,389.4 333.7,391.4 333.1,393.5 332.9,395.4 337.6,447.1" fill="#e39a38" stroke="#7a5424" stroke-width="0.7" stroke-linejoin="round" />
<polyline points="329.4,449.9 329.0,399.6" fill="none" stroke="#c27f2c" stroke-width="1.0" stroke-linecap="round" stroke-linejoin="round" />
<polyline points="397.0,411.0 401.3,358.0" fill="none" stroke="#c27f2c" stroke-width="1.0" stroke-linecap="round" stroke-linejoin="round" />
<path d="M386.8,413.0 A10.5,5.6 0 0 0 407.8,413.0 L407.8,412.0 Q397.3,415.5 386.8,412.0 Z" fill="#eeefee" stroke="#8f9a96" stroke-width="0.7" stroke-linecap="round" stroke-linejoin="round" />
<path d="M320.1,451.3 A10.5,5.6 0 0 0 341.1,451.3 L341.1,450.3 Q330.6,453.8 320.1,450.3 Z" fill="#eeefee" stroke="#8f9a96" stroke-width="0.7" stroke-linecap="round" stroke-linejoin="round" />
<circle cx="321.6" cy="418.9" r="0.9" fill="#e8e8e8"/>
<polygon points="300.0,373.2 414.1,342.6 414.1,348.6 300.0,382.2" fill="#c9a24a" stroke="#4a5a3c" stroke-width="0.6" stroke-linejoin="round" />
<polygon points="300.0,373.2 414.1,342.6 414.1,345.1 300.0,375.7" fill="#4f8a70" />
<polygon points="246.2,344.5 300.0,373.2 300.0,382.2 246.2,353.5" fill="#5f6362" stroke="#2f3a36" stroke-width="0.6" stroke-linejoin="round" />
<polygon points="246.2,344.5 331.6,296.2 414.1,342.6 300.0,373.2" fill="#68a086" stroke="#2c5a48" stroke-width="0.8" stroke-linejoin="round" />
<polygon points="331.6,296.2 414.1,342.6 412.1,345.6 328.6,298.6" fill="#55655f" />
<polygon points="409.5,345.0 415.1,342.6 415.1,348.7 410.4,350.6" fill="#c9893a" stroke="#5a4a2a" stroke-width="0.5" stroke-linejoin="round" />
<polygon points="328.7,356.5 333.3,356.5 333.3,344.5 328.7,344.5" fill="#3d5a50" stroke="#20332c" stroke-width="0.4" stroke-linejoin="round" />
<polygon points="339.8,350.0 344.4,350.0 344.4,338.0 339.8,338.0" fill="#3d5a50" stroke="#20332c" stroke-width="0.4" stroke-linejoin="round" />
<polygon points="287.0,303.6 326.9,297.1 381.7,328.7 337.1,334.6" fill="#4a8c70" stroke="#dfeae4" stroke-width="1.0" stroke-linejoin="round" />
<polygon points="255.5,340.7 287.0,304.6 335.3,334.2 307.4,371.4" fill="#1d6648" stroke="#dfeae4" stroke-width="1.1" stroke-linejoin="round" />
<polyline points="260.7,334.7 312.1,365.2" fill="none" stroke="#0f4a34" stroke-width="0.7" stroke-linecap="round" stroke-linejoin="round" />
<polyline points="266.0,328.7 316.7,359.0" fill="none" stroke="#4f9a78" stroke-width="0.7" stroke-linecap="round" stroke-linejoin="round" />
<polyline points="271.3,322.6 321.4,352.8" fill="none" stroke="#0f4a34" stroke-width="0.7" stroke-linecap="round" stroke-linejoin="round" />
<polyline points="276.5,316.6 326.0,346.6" fill="none" stroke="#4f9a78" stroke-width="0.7" stroke-linecap="round" stroke-linejoin="round" />
<polyline points="281.8,310.6 330.6,340.4" fill="none" stroke="#0f4a34" stroke-width="0.7" stroke-linecap="round" stroke-linejoin="round" />
<polyline points="265.9,346.9 296.7,310.5" fill="none" stroke="#4f9a78" stroke-width="0.6" stroke-linecap="round" stroke-linejoin="round" />
<polyline points="276.3,353.0 306.3,316.4" fill="none" stroke="#4f9a78" stroke-width="0.6" stroke-linecap="round" stroke-linejoin="round" />
<polyline points="286.7,359.1 316.0,322.4" fill="none" stroke="#4f9a78" stroke-width="0.6" stroke-linecap="round" stroke-linejoin="round" />
<polyline points="297.1,365.2 325.6,328.3" fill="none" stroke="#4f9a78" stroke-width="0.6" stroke-linecap="round" stroke-linejoin="round" />
<polyline points="293.7,302.5 344.6,333.6" fill="none" stroke="#3d7f63" stroke-width="0.7" stroke-linecap="round" stroke-linejoin="round" />
<polyline points="300.3,301.5 352.0,332.6" fill="none" stroke="#79b398" stroke-width="0.7" stroke-linecap="round" stroke-linejoin="round" />
<polyline points="307.0,300.4 359.4,331.6" fill="none" stroke="#3d7f63" stroke-width="0.7" stroke-linecap="round" stroke-linejoin="round" />
<polyline points="313.6,299.3 366.8,330.7" fill="none" stroke="#79b398" stroke-width="0.7" stroke-linecap="round" stroke-linejoin="round" />
<polyline points="320.3,298.2 374.2,329.7" fill="none" stroke="#3d7f63" stroke-width="0.7" stroke-linecap="round" stroke-linejoin="round" />
<polyline points="297.1,309.8 337.9,303.4" fill="none" stroke="#79b398" stroke-width="0.6" stroke-linecap="round" stroke-linejoin="round" />
<polyline points="307.1,316.0 348.8,309.8" fill="none" stroke="#79b398" stroke-width="0.6" stroke-linecap="round" stroke-linejoin="round" />
<polyline points="317.1,322.2 359.8,316.1" fill="none" stroke="#79b398" stroke-width="0.6" stroke-linecap="round" stroke-linejoin="round" />
<polyline points="327.1,328.4 370.7,322.4" fill="none" stroke="#79b398" stroke-width="0.6" stroke-linecap="round" stroke-linejoin="round" />
<polygon points="272.8,320.8 277.6,315.4 320.0,354.7 315.8,360.2" fill="rgba(255,255,255,0.13)" />
<polygon points="261.8,333.5 264.0,331.0 310.2,367.6 308.3,370.2" fill="rgba(255,255,255,0.10)" />
<polygon points="307.0,300.4 315.0,299.1 363.9,331.1 354.9,332.2" fill="rgba(255,255,255,0.16)" />
<polygon points="367.1,440.1 372.3,455.1 381.0,454.1 375.8,435.2" fill="rgba(0,0,0,0.10)" />
<polygon points="358.4,435.2 367.1,440.1 367.1,404.1 358.4,399.2" fill="#1d5d4c" stroke="#0c3a2d" stroke-width="0.5" stroke-linejoin="round" />
<polygon points="376.6,434.7 367.1,440.1 367.1,404.1 376.6,398.7" fill="#134838" stroke="#0c3a2d" stroke-width="0.5" stroke-linejoin="round" />
<polygon points="368.0,393.7 376.6,398.7 367.1,404.1 358.4,399.2" fill="#2c2f2e" stroke="#0c3a2d" stroke-width="0.5" stroke-linejoin="round" />
<polygon points="356.7,399.2 367.1,405.1 367.1,401.6 356.7,395.7" fill="#2a5548" stroke="#0c3a2d" stroke-width="0.4" stroke-linejoin="round" />
<polygon points="378.4,398.7 367.1,405.1 367.1,401.6 378.4,395.2" fill="#1c4a3c" stroke="#0c3a2d" stroke-width="0.4" stroke-linejoin="round" />
<polygon points="368.0,389.2 378.4,395.2 367.1,401.6 356.7,395.7" fill="#3a3d3c" stroke="#0c3a2d" stroke-width="0.4" stroke-linejoin="round" />
<polygon points="360.2,409.2 365.4,412.2 365.4,406.2 360.2,403.2" fill="#3f8570" />
<polygon points="360.2,423.2 364.5,425.7 364.5,420.7 360.2,418.2" fill="#0c3327" />
<circle cx="362.8" cy="422.7" r="1.1" fill="#d9a437"/>
<path d="M371.4,405.7 C376.4,403.7 376.2,421.6 373.2,431.6" fill="none" stroke="#9aa8a2" stroke-width="0.9" stroke-linecap="round" stroke-linejoin="round" />
<g transform="translate(352.5 442.3) scale(1.55)">
<path d="M-1.8,0 L-1.6,-7 L1.6,-7 L1.9,0 L0.5,0 L0.1,-5 L-0.4,0Z" fill="#2f6f56" stroke="#143c30" stroke-width="0.4"/>
<path d="M-2.2,-7 L-2.4,-12.2 Q0,-13.6 2.4,-12.2 L2.2,-7Z" fill="#e9ece9" stroke="#143c30" stroke-width="0.4"/>
<circle cx="0" cy="-14.6" r="1.6" fill="#d99a6c" stroke="#143c30" stroke-width="0.3"/>
<path d="M-1.7,-15 Q0,-17.6 1.7,-15 Q0,-16.2 -1.7,-15Z" fill="#5b3a29"/>
</g>
<polygon points="436.4,389.3 449.4,396.8 449.4,372.8 436.4,365.3" fill="#6f7372" stroke="#4a4f4e" stroke-width="0.5" stroke-linejoin="round" />
<polygon points="468.5,385.8 449.4,396.8 449.4,372.8 468.5,361.8" fill="#7d8180" stroke="#4a4f4e" stroke-width="0.5" stroke-linejoin="round" />
<polygon points="455.5,354.4 468.5,361.8 449.4,372.8 436.4,365.3" fill="#8b8f8e" stroke="#4a4f4e" stroke-width="0.5" stroke-linejoin="round" />
<ellipse cx="464.0" cy="451.7" rx="12.0" ry="4.5" fill="rgba(0,0,0,0.08)" />
<ellipse cx="458.0" cy="447.7" rx="10.5" ry="5.6" fill="#e9eae9" stroke="#8f9a96" stroke-width="0.8" />
<ellipse cx="397.3" cy="490.1" rx="12.0" ry="4.5" fill="rgba(0,0,0,0.08)" />
<ellipse cx="391.3" cy="486.1" rx="10.5" ry="5.6" fill="#e9eae9" stroke="#8f9a96" stroke-width="0.8" />
<polygon points="392.7,448.2 455.1,412.3 455.1,408.1 392.7,444.0" fill="#595d5c" />
<polygon points="392.7,444.0 455.1,408.1 453.3,407.1 391.0,443.0" fill="#747978" />
<polygon points="453.3,450.3 456.8,393.8 456.6,392.1 456.0,390.8 455.0,389.9 451.6,387.9 452.5,388.8 453.1,390.1 453.3,391.8 449.9,448.3" fill="#b9772b" stroke="#6b4a22" stroke-width="0.5" stroke-linejoin="round" />
<polygon points="386.2,458.9 386.2,434.4 386.2,434.4 386.6,430.3 387.9,425.9 390.0,421.6 392.7,417.7 395.8,414.4 399.2,411.9 454.2,380.3 457.6,378.9 460.7,378.6 463.4,379.4 465.5,381.3 466.8,384.2 467.2,387.8 459.4,383.3 459.0,379.7 457.7,376.8 455.6,374.9 452.9,374.1 449.8,374.4 446.4,375.8 391.4,407.5 388.0,409.9 384.9,413.2 382.2,417.1 380.1,421.4 378.8,425.8 378.4,429.9 378.4,429.9 378.4,454.4" fill="#636363" stroke="#3e4342" stroke-width="0.6" stroke-linejoin="round" />
<polygon points="386.2,488.9 386.2,458.9 378.4,454.4 382.3,486.7" fill="#a0682a" stroke="#6b4a22" stroke-width="0.5" stroke-linejoin="round" />
<polygon points="386.2,488.9 386.2,434.4 386.2,434.4 386.6,430.3 387.9,425.9 390.0,421.6 392.7,417.7 395.8,414.4 399.2,411.9 454.2,380.3 457.6,378.9 460.7,378.6 463.4,379.4 465.5,381.3 466.8,384.2 467.2,387.8 462.9,444.8 453.3,450.3 456.8,393.8 456.6,392.1 456.0,390.8 455.0,389.9 453.8,389.5 452.3,389.6 450.7,390.3 399.6,419.7 398.0,420.8 396.6,422.4 395.3,424.2 394.4,426.2 393.8,428.2 393.6,430.2 398.3,481.9" fill="#e39a38" stroke="#7a5424" stroke-width="0.7" stroke-linejoin="round" />
<polyline points="390.1,484.7 389.7,434.4" fill="none" stroke="#c27f2c" stroke-width="1.0" stroke-linecap="round" stroke-linejoin="round" />
<polyline points="457.7,445.8 462.0,392.8" fill="none" stroke="#c27f2c" stroke-width="1.0" stroke-linecap="round" stroke-linejoin="round" />
<path d="M447.5,447.7 A10.5,5.6 0 0 0 468.5,447.7 L468.5,446.7 Q458.0,450.2 447.5,446.7 Z" fill="#eeefee" stroke="#8f9a96" stroke-width="0.7" stroke-linecap="round" stroke-linejoin="round" />
<path d="M380.8,486.1 A10.5,5.6 0 0 0 401.8,486.1 L401.8,485.1 Q391.3,488.6 380.8,485.1 Z" fill="#eeefee" stroke="#8f9a96" stroke-width="0.7" stroke-linecap="round" stroke-linejoin="round" />
<circle cx="382.3" cy="453.7" r="0.9" fill="#e8e8e8"/>
<polygon points="427.8,474.9 433.0,489.9 441.7,488.9 436.4,470.0" fill="rgba(0,0,0,0.10)" />
<polygon points="419.1,470.0 427.8,474.9 427.8,438.9 419.1,434.0" fill="#1d5d4c" stroke="#0c3a2d" stroke-width="0.5" stroke-linejoin="round" />
<polygon points="437.3,469.5 427.8,474.9 427.8,438.9 437.3,433.5" fill="#134838" stroke="#0c3a2d" stroke-width="0.5" stroke-linejoin="round" />
<polygon points="428.6,428.5 437.3,433.5 427.8,438.9 419.1,434.0" fill="#2c2f2e" stroke="#0c3a2d" stroke-width="0.5" stroke-linejoin="round" />
<polygon points="417.4,434.0 427.8,439.9 427.8,436.4 417.4,430.5" fill="#2a5548" stroke="#0c3a2d" stroke-width="0.4" stroke-linejoin="round" />
<polygon points="439.0,433.5 427.8,439.9 427.8,436.4 439.0,430.0" fill="#1c4a3c" stroke="#0c3a2d" stroke-width="0.4" stroke-linejoin="round" />
<polygon points="428.6,424.0 439.0,430.0 427.8,436.4 417.4,430.5" fill="#3a3d3c" stroke="#0c3a2d" stroke-width="0.4" stroke-linejoin="round" />
<polygon points="420.8,444.0 426.0,446.9 426.0,440.9 420.8,438.0" fill="#3f8570" />
<polygon points="420.8,458.0 425.2,460.4 425.2,455.4 420.8,453.0" fill="#0c3327" />
<circle cx="423.4" cy="457.5" r="1.1" fill="#d9a437"/>
<path d="M432.1,440.4 C437.1,438.4 436.8,456.4 433.8,466.4" fill="none" stroke="#9aa8a2" stroke-width="0.9" stroke-linecap="round" stroke-linejoin="round" />
<ellipse cx="524.7" cy="486.5" rx="12.0" ry="4.5" fill="rgba(0,0,0,0.08)" />
<ellipse cx="518.7" cy="482.5" rx="10.5" ry="5.6" fill="#e9eae9" stroke="#8f9a96" stroke-width="0.8" />
<ellipse cx="458.0" cy="524.9" rx="12.0" ry="4.5" fill="rgba(0,0,0,0.08)" />
<ellipse cx="452.0" cy="520.9" rx="10.5" ry="5.6" fill="#e9eae9" stroke="#8f9a96" stroke-width="0.8" />
<polygon points="453.4,483.0 515.7,447.1 515.7,442.9 453.4,478.8" fill="#595d5c" />
<polygon points="453.4,478.8 515.7,442.9 514.0,441.9 451.6,477.8" fill="#747978" />
<polygon points="514.0,485.1 517.5,428.6 517.3,426.9 516.7,425.5 515.7,424.6 512.2,422.7 513.2,423.6 513.8,424.9 514.0,426.6 510.5,483.1" fill="#b9772b" stroke="#6b4a22" stroke-width="0.5" stroke-linejoin="round" />
<polygon points="446.9,493.7 446.9,469.2 446.9,469.2 447.3,465.1 448.6,460.7 450.7,456.4 453.4,452.5 456.5,449.2 459.9,446.7 514.9,415.1 518.2,413.6 521.4,413.3 524.1,414.2 526.1,416.1 527.4,419.0 527.9,422.6 520.1,418.1 519.6,414.5 518.3,411.6 516.3,409.7 513.6,408.9 510.4,409.2 507.1,410.6 452.1,442.3 448.7,444.7 445.6,448.0 442.9,451.9 440.8,456.2 439.5,460.6 439.1,464.7 439.1,464.7 439.1,489.2" fill="#636363" stroke="#3e4342" stroke-width="0.6" stroke-linejoin="round" />
<polygon points="446.9,523.7 446.9,493.7 439.1,489.2 443.0,521.5" fill="#a0682a" stroke="#6b4a22" stroke-width="0.5" stroke-linejoin="round" />
<polygon points="446.9,523.7 446.9,469.2 446.9,469.2 447.3,465.1 448.6,460.7 450.7,456.4 453.4,452.5 456.5,449.2 459.9,446.7 514.9,415.1 518.2,413.6 521.4,413.3 524.1,414.2 526.1,416.1 527.4,419.0 527.9,422.6 523.5,479.6 514.0,485.1 517.5,428.6 517.3,426.9 516.7,425.5 515.7,424.6 514.5,424.3 513.0,424.4 511.4,425.1 460.3,454.5 458.7,455.6 457.3,457.2 456.0,459.0 455.0,461.0 454.4,463.0 454.2,465.0 459.0,516.7" fill="#e39a38" stroke="#7a5424" stroke-width="0.7" stroke-linejoin="round" />
<polyline points="450.8,519.5 450.3,469.2" fill="none" stroke="#c27f2c" stroke-width="1.0" stroke-linecap="round" stroke-linejoin="round" />
<polyline points="518.3,480.6 522.7,427.6" fill="none" stroke="#c27f2c" stroke-width="1.0" stroke-linecap="round" stroke-linejoin="round" />
<path d="M508.2,482.5 A10.5,5.6 0 0 0 529.2,482.5 L529.2,481.5 Q518.7,485.0 508.2,481.5 Z" fill="#eeefee" stroke="#8f9a96" stroke-width="0.7" stroke-linecap="round" stroke-linejoin="round" />
<path d="M441.5,520.9 A10.5,5.6 0 0 0 462.5,520.9 L462.5,519.9 Q452.0,523.4 441.5,519.9 Z" fill="#eeefee" stroke="#8f9a96" stroke-width="0.7" stroke-linecap="round" stroke-linejoin="round" />
<circle cx="443.0" cy="488.5" r="0.9" fill="#e8e8e8"/>
<polygon points="488.5,509.7 493.7,524.7 502.3,523.7 497.1,504.7" fill="rgba(0,0,0,0.10)" />
<polygon points="479.8,504.8 488.5,509.7 488.5,473.7 479.8,468.8" fill="#1d5d4c" stroke="#0c3a2d" stroke-width="0.5" stroke-linejoin="round" />
<polygon points="498.0,504.2 488.5,509.7 488.5,473.7 498.0,468.2" fill="#134838" stroke="#0c3a2d" stroke-width="0.5" stroke-linejoin="round" />
<polygon points="489.3,463.3 498.0,468.2 488.5,473.7 479.8,468.8" fill="#2c2f2e" stroke="#0c3a2d" stroke-width="0.5" stroke-linejoin="round" />
<polygon points="478.1,468.8 488.5,474.7 488.5,471.2 478.1,465.3" fill="#2a5548" stroke="#0c3a2d" stroke-width="0.4" stroke-linejoin="round" />
<polygon points="499.7,468.2 488.5,474.7 488.5,471.2 499.7,464.7" fill="#1c4a3c" stroke="#0c3a2d" stroke-width="0.4" stroke-linejoin="round" />
<polygon points="489.3,458.8 499.7,464.7 488.5,471.2 478.1,465.3" fill="#3a3d3c" stroke="#0c3a2d" stroke-width="0.4" stroke-linejoin="round" />
<polygon points="481.5,478.8 486.7,481.7 486.7,475.7 481.5,472.8" fill="#3f8570" />
<polygon points="481.5,492.8 485.9,495.2 485.9,490.2 481.5,487.8" fill="#0c3327" />
<circle cx="484.1" cy="492.2" r="1.1" fill="#d9a437"/>
<path d="M492.8,475.2 C497.8,473.2 497.5,491.2 494.5,501.2" fill="none" stroke="#9aa8a2" stroke-width="0.9" stroke-linecap="round" stroke-linejoin="round" />
<polygon points="596.8,470.3 623.2,485.5 497.6,557.8 471.1,542.6" fill="rgba(0,0,0,0.09)" />
<polygon points="617.1,475.0 508.8,537.3 508.8,531.3 617.1,469.0" fill="#55625d" />
<ellipse cx="611.1" cy="479.4" rx="4.5" ry="5.4" fill="#10483a" stroke="#0a2f26" stroke-width="0.6" transform="rotate(-27 611.1 479.4)"/>
<ellipse cx="611.6" cy="479.4" rx="2.4" ry="3.1" fill="#8fc3aa" transform="rotate(-27 611.1 479.4)"/>
<ellipse cx="601.1" cy="485.1" rx="4.5" ry="5.4" fill="#10483a" stroke="#0a2f26" stroke-width="0.6" transform="rotate(-27 601.1 485.1)"/>
<ellipse cx="601.6" cy="485.1" rx="2.4" ry="3.1" fill="#8fc3aa" transform="rotate(-27 601.1 485.1)"/>
<ellipse cx="591.2" cy="490.8" rx="4.5" ry="5.4" fill="#10483a" stroke="#0a2f26" stroke-width="0.6" transform="rotate(-27 591.2 490.8)"/>
<ellipse cx="591.7" cy="490.8" rx="2.4" ry="3.1" fill="#8fc3aa" transform="rotate(-27 591.2 490.8)"/>
<ellipse cx="533.1" cy="524.2" rx="4.5" ry="5.4" fill="#10483a" stroke="#0a2f26" stroke-width="0.6" transform="rotate(-27 533.1 524.2)"/>
<ellipse cx="533.6" cy="524.2" rx="2.4" ry="3.1" fill="#8fc3aa" transform="rotate(-27 533.1 524.2)"/>
<ellipse cx="522.7" cy="530.2" rx="4.5" ry="5.4" fill="#10483a" stroke="#0a2f26" stroke-width="0.6" transform="rotate(-27 522.7 530.2)"/>
<ellipse cx="523.2" cy="530.2" rx="2.4" ry="3.1" fill="#8fc3aa" transform="rotate(-27 522.7 530.2)"/>
<polygon points="485.0,517.6 509.7,531.8 509.7,497.8 485.0,483.6" fill="#d4d6d5" stroke="#1f4a3c" stroke-width="0.7" stroke-linejoin="round" />
<polygon points="621.5,467.5 509.7,531.8 509.7,497.8 621.5,433.5" fill="#e9eae9" stroke="#1f4a3c" stroke-width="0.7" stroke-linejoin="round" />
<polygon points="596.8,419.3 621.5,433.5 509.7,497.8 485.0,483.6" fill="#f6f6f5" stroke="#1f4a3c" stroke-width="0.7" stroke-linejoin="round" />
<polyline points="621.5,464.0 509.7,528.3" fill="none" stroke="#b7bcba" stroke-width="0.7" stroke-linecap="round" stroke-linejoin="round" />
<polygon points="517.3,537.2 493.1,551.2 493.1,529.2 508.7,501.2 517.3,496.2" fill="#86b49c" stroke="#1f4a3c" stroke-width="0.7" stroke-linejoin="round" />
<polygon points="504.3,529.7 493.5,536.4 493.5,529.9 500.0,518.2 505.2,514.2" fill="#0f4335" />
<ellipse cx="499.3" cy="543.7" rx="4.5" ry="5.4" fill="#10483a" stroke="#0a2f26" stroke-width="0.6" transform="rotate(-27 499.3 543.7)"/>
<ellipse cx="499.8" cy="543.7" rx="2.4" ry="3.1" fill="#8fc3aa" transform="rotate(-27 499.3 543.7)"/>
<polygon points="463.3,535.6 492.2,552.2 492.2,529.7 463.3,513.1" fill="#9cc6b0" stroke="#1f4a3c" stroke-width="0.7" stroke-linejoin="round" />
<polygon points="464.2,521.6 491.8,537.4 491.8,530.2 464.2,514.4" fill="#0f4335" />
<polygon points="467.7,533.6 487.9,545.2 487.9,540.2 467.7,528.6" fill="#0f4335" />
<polygon points="463.3,535.6 492.2,552.2 492.2,549.5 463.3,532.9" fill="#7dad95" />
<ellipse cx="489.6" cy="547.0" rx="1.8" ry="1.2" fill="#f3f6e8"/>
<ellipse cx="465.9" cy="533.4" rx="1.8" ry="1.2" fill="#f3f6e8"/>
<polygon points="463.3,513.1 492.2,529.7 508.7,501.2 482.4,486.1" fill="#a4ccb7" stroke="#1f4a3c" stroke-width="0.7" stroke-linejoin="round" />
<polygon points="472.0,510.1 487.0,518.7 493.9,503.7 481.5,496.6" fill="#b4d6c4" />
<polygon points="481.5,493.6 506.2,507.8 509.7,497.8 485.0,483.6" fill="#ecedec" stroke="#1f4a3c" stroke-width="0.6" stroke-linejoin="round" />
<polygon points="509.7,497.8 506.2,507.8 509.7,509.8" fill="#d9dcda" stroke="#1f4a3c" stroke-width="0.5" stroke-linejoin="round" />
<ellipse cx="585.4" cy="521.3" rx="12.0" ry="4.5" fill="rgba(0,0,0,0.08)" />
<ellipse cx="579.4" cy="517.3" rx="10.5" ry="5.6" fill="#e9eae9" stroke="#8f9a96" stroke-width="0.8" />
<ellipse cx="518.7" cy="559.7" rx="12.0" ry="4.5" fill="rgba(0,0,0,0.08)" />
<ellipse cx="512.7" cy="555.7" rx="10.5" ry="5.6" fill="#e9eae9" stroke="#8f9a96" stroke-width="0.8" />
<polygon points="514.1,517.8 576.4,481.9 576.4,477.7 514.1,513.6" fill="#595d5c" />
<polygon points="514.1,513.6 576.4,477.7 574.7,476.7 512.3,512.6" fill="#747978" />
<polygon points="574.7,519.9 578.2,463.4 578.0,461.7 577.4,460.3 576.4,459.4 572.9,457.4 573.9,458.3 574.5,459.7 574.7,461.4 571.2,517.9" fill="#b9772b" stroke="#6b4a22" stroke-width="0.5" stroke-linejoin="round" />
<polygon points="507.6,528.5 507.6,504.0 507.6,504.0 508.0,499.9 509.3,495.5 511.4,491.2 514.1,487.3 517.2,484.0 520.6,481.5 575.6,449.9 578.9,448.4 582.1,448.1 584.8,449.0 586.8,450.9 588.1,453.8 588.6,457.4 580.8,452.9 580.3,449.3 579.0,446.4 577.0,444.5 574.3,443.7 571.1,444.0 567.8,445.4 512.7,477.0 509.4,479.5 506.3,482.8 503.6,486.7 501.5,491.0 500.2,495.4 499.8,499.5 499.8,499.5 499.8,524.0" fill="#636363" stroke="#3e4342" stroke-width="0.6" stroke-linejoin="round" />
<polygon points="507.6,558.5 507.6,528.5 499.8,524.0 503.7,556.3" fill="#a0682a" stroke="#6b4a22" stroke-width="0.5" stroke-linejoin="round" />
<polygon points="507.6,558.5 507.6,504.0 507.6,504.0 508.0,499.9 509.3,495.5 511.4,491.2 514.1,487.3 517.2,484.0 520.6,481.5 575.6,449.9 578.9,448.4 582.1,448.1 584.8,449.0 586.8,450.9 588.1,453.8 588.6,457.4 584.2,514.4 574.7,519.9 578.2,463.4 578.0,461.7 577.4,460.3 576.4,459.4 575.1,459.0 573.7,459.2 572.1,459.9 521.0,489.3 519.4,490.4 518.0,491.9 516.7,493.8 515.7,495.8 515.1,497.8 514.9,499.8 519.7,551.5" fill="#e39a38" stroke="#7a5424" stroke-width="0.7" stroke-linejoin="round" />
<polyline points="511.5,554.2 511.0,504.0" fill="none" stroke="#c27f2c" stroke-width="1.0" stroke-linecap="round" stroke-linejoin="round" />
<polyline points="579.0,515.4 583.4,462.4" fill="none" stroke="#c27f2c" stroke-width="1.0" stroke-linecap="round" stroke-linejoin="round" />
<path d="M568.9,517.3 A10.5,5.6 0 0 0 589.9,517.3 L589.9,516.3 Q579.4,519.8 568.9,516.3 Z" fill="#eeefee" stroke="#8f9a96" stroke-width="0.7" stroke-linecap="round" stroke-linejoin="round" />
<path d="M502.2,555.7 A10.5,5.6 0 0 0 523.2,555.7 L523.2,554.7 Q512.7,558.2 502.2,554.7 Z" fill="#eeefee" stroke="#8f9a96" stroke-width="0.7" stroke-linecap="round" stroke-linejoin="round" />
<circle cx="503.7" cy="523.3" r="0.9" fill="#e8e8e8"/>
<polygon points="549.1,544.5 554.4,559.4 563.0,558.4 557.8,539.5" fill="rgba(0,0,0,0.10)" />
<polygon points="540.5,539.5 549.1,544.5 549.1,508.5 540.5,503.5" fill="#1d5d4c" stroke="#0c3a2d" stroke-width="0.5" stroke-linejoin="round" />
<polygon points="558.7,539.0 549.1,544.5 549.1,508.5 558.7,503.0" fill="#134838" stroke="#0c3a2d" stroke-width="0.5" stroke-linejoin="round" />
<polygon points="550.0,498.1 558.7,503.0 549.1,508.5 540.5,503.5" fill="#2c2f2e" stroke="#0c3a2d" stroke-width="0.5" stroke-linejoin="round" />
<polygon points="538.7,503.6 549.1,509.5 549.1,506.0 538.7,500.1" fill="#2a5548" stroke="#0c3a2d" stroke-width="0.4" stroke-linejoin="round" />
<polygon points="560.4,503.0 549.1,509.5 549.1,506.0 560.4,499.5" fill="#1c4a3c" stroke="#0c3a2d" stroke-width="0.4" stroke-linejoin="round" />
<polygon points="550.0,493.6 560.4,499.5 549.1,506.0 538.7,500.1" fill="#3a3d3c" stroke="#0c3a2d" stroke-width="0.4" stroke-linejoin="round" />
<polygon points="542.2,513.5 547.4,516.5 547.4,510.5 542.2,507.5" fill="#3f8570" />
<polygon points="542.2,527.5 546.5,530.0 546.5,525.0 542.2,522.5" fill="#0c3327" />
<circle cx="544.8" cy="527.0" r="1.1" fill="#d9a437"/>
<path d="M553.5,510.0 C558.5,508.0 558.2,526.0 555.2,536.0" fill="none" stroke="#9aa8a2" stroke-width="0.9" stroke-linecap="round" stroke-linejoin="round" />
<polygon points="547.2,552.3 576.0,568.9 576.0,537.9 547.2,521.3" fill="#5e6261" stroke="#3f4443" stroke-width="0.5" stroke-linejoin="round" />
<polygon points="625.4,540.5 576.0,568.9 576.0,537.9 625.4,509.5" fill="#747877" stroke="#3f4443" stroke-width="0.5" stroke-linejoin="round" />
<polygon points="596.5,492.9 625.4,509.5 576.0,537.9 547.2,521.3" fill="#8e9291" stroke="#3f4443" stroke-width="0.5" stroke-linejoin="round" />
<polyline points="625.4,520.5 576.0,548.9" fill="none" stroke="#5a5e5d" stroke-width="0.9" stroke-linecap="round" stroke-linejoin="round" />
<polyline points="625.4,516.5 576.0,544.9" fill="none" stroke="#5a5e5d" stroke-width="0.9" stroke-linecap="round" stroke-linejoin="round" />
<polygon points="625.4,516.5 576.0,544.9 576.0,542.4 625.4,514.0" fill="#888c8b" />
<polygon points="527.5,569.9 550.9,583.3 550.9,559.3 527.5,545.9" fill="#565a59" stroke="#2f3433" stroke-width="0.5" stroke-linejoin="round" />
<polygon points="572.6,570.9 550.9,583.3 550.9,559.3 572.6,546.9" fill="#636766" stroke="#2f3433" stroke-width="0.5" stroke-linejoin="round" />
<polygon points="549.2,533.5 572.6,546.9 550.9,559.3 527.5,545.9" fill="#6e7271" stroke="#2f3433" stroke-width="0.5" stroke-linejoin="round" />
<polygon points="532.7,545.9 550.9,556.4 550.9,554.9 532.7,544.4" fill="#5b5f5e" stroke="#2f3433" stroke-width="0.4" stroke-linejoin="round" />
<polygon points="567.4,546.9 550.9,556.4 550.9,554.9 567.4,545.4" fill="#686c6b" stroke="#2f3433" stroke-width="0.4" stroke-linejoin="round" />
<polygon points="549.2,534.9 567.4,545.4 550.9,554.9 532.7,544.4" fill="#7a7e7d" stroke="#2f3433" stroke-width="0.4" stroke-linejoin="round" />
<polyline points="570.0,569.4 570.0,551.4" fill="none" stroke="#45494a" stroke-width="0.6" stroke-linecap="round" stroke-linejoin="round" />
<polyline points="567.4,570.9 567.4,552.9" fill="none" stroke="#45494a" stroke-width="0.6" stroke-linecap="round" stroke-linejoin="round" />
<polyline points="564.8,572.4 564.8,554.4" fill="none" stroke="#45494a" stroke-width="0.6" stroke-linecap="round" stroke-linejoin="round" />
<polyline points="562.2,573.9 562.2,555.9" fill="none" stroke="#45494a" stroke-width="0.6" stroke-linecap="round" stroke-linejoin="round" />
<polyline points="559.6,575.4 559.6,557.4" fill="none" stroke="#45494a" stroke-width="0.6" stroke-linecap="round" stroke-linejoin="round" />
<polyline points="557.0,576.9 557.0,558.9" fill="none" stroke="#45494a" stroke-width="0.6" stroke-linecap="round" stroke-linejoin="round" />
<polyline points="554.4,578.3 554.4,560.3" fill="none" stroke="#45494a" stroke-width="0.6" stroke-linecap="round" stroke-linejoin="round" />
<ellipse cx="646.0" cy="556.1" rx="12.0" ry="4.5" fill="rgba(0,0,0,0.08)" />
<ellipse cx="640.0" cy="552.1" rx="10.5" ry="5.6" fill="#e9eae9" stroke="#8f9a96" stroke-width="0.8" />
<ellipse cx="579.3" cy="594.5" rx="12.0" ry="4.5" fill="rgba(0,0,0,0.08)" />
<ellipse cx="573.3" cy="590.5" rx="10.5" ry="5.6" fill="#e9eae9" stroke="#8f9a96" stroke-width="0.8" />
<polygon points="574.7,552.6 637.1,516.7 637.1,512.5 574.7,548.4" fill="#595d5c" />
<polygon points="574.7,548.4 637.1,512.5 635.4,511.5 573.0,547.4" fill="#747978" />
<polygon points="635.4,554.6 638.8,498.2 638.6,496.5 638.0,495.1 637.1,494.2 633.6,492.2 634.6,493.1 635.2,494.5 635.4,496.2 631.9,552.7" fill="#b9772b" stroke="#6b4a22" stroke-width="0.5" stroke-linejoin="round" />
<polygon points="568.2,563.3 568.2,538.8 568.2,538.8 568.7,534.6 570.0,530.3 572.0,526.0 574.7,522.1 577.9,518.8 581.2,516.3 636.2,484.7 639.6,483.2 642.7,482.9 645.4,483.8 647.5,485.7 648.8,488.5 649.2,492.2 641.4,487.7 641.0,484.1 639.7,481.2 637.6,479.3 634.9,478.4 631.8,478.8 628.4,480.2 573.4,511.8 570.1,514.3 566.9,517.6 564.2,521.5 562.2,525.8 560.9,530.2 560.4,534.3 560.4,534.3 560.4,558.8" fill="#636363" stroke="#3e4342" stroke-width="0.6" stroke-linejoin="round" />
<polygon points="568.2,593.3 568.2,563.3 560.4,558.8 564.3,591.0" fill="#a0682a" stroke="#6b4a22" stroke-width="0.5" stroke-linejoin="round" />
<polygon points="568.2,593.3 568.2,538.8 568.2,538.8 568.7,534.6 570.0,530.3 572.0,526.0 574.7,522.1 577.9,518.8 581.2,516.3 636.2,484.7 639.6,483.2 642.7,482.9 645.4,483.8 647.5,485.7 648.8,488.5 649.2,492.2 644.9,549.2 635.4,554.6 638.8,498.2 638.6,496.5 638.0,495.1 637.1,494.2 635.8,493.8 634.4,494.0 632.8,494.6 581.7,524.1 580.1,525.2 578.6,526.7 577.4,528.6 576.4,530.6 575.8,532.6 575.6,534.5 580.4,586.3" fill="#e39a38" stroke="#7a5424" stroke-width="0.7" stroke-linejoin="round" />
<polyline points="572.1,589.0 571.7,538.8" fill="none" stroke="#c27f2c" stroke-width="1.0" stroke-linecap="round" stroke-linejoin="round" />
<polyline points="639.7,550.2 644.0,497.2" fill="none" stroke="#c27f2c" stroke-width="1.0" stroke-linecap="round" stroke-linejoin="round" />
<path d="M629.5,552.1 A10.5,5.6 0 0 0 650.5,552.1 L650.5,551.1 Q640.0,554.6 629.5,551.1 Z" fill="#eeefee" stroke="#8f9a96" stroke-width="0.7" stroke-linecap="round" stroke-linejoin="round" />
<path d="M562.8,590.5 A10.5,5.6 0 0 0 583.8,590.5 L583.8,589.5 Q573.3,593.0 562.8,589.5 Z" fill="#eeefee" stroke="#8f9a96" stroke-width="0.7" stroke-linecap="round" stroke-linejoin="round" />
<circle cx="564.3" cy="558.0" r="0.9" fill="#e8e8e8"/>
<polygon points="621.1,628.6 628.1,635.5 689.6,600.1 687.0,590.7" fill="rgba(120,40,0,0.22)" />
<polygon points="585.6,608.2 621.1,628.6 621.1,588.6 585.6,568.2" fill="#6d6f6e" stroke="#4b4f4e" stroke-width="0.6" stroke-linejoin="round" />
<polygon points="687.0,590.7 621.1,628.6 621.1,588.6 687.0,550.7" fill="#8c8e8d" stroke="#4b4f4e" stroke-width="0.6" stroke-linejoin="round" />
<polygon points="651.4,530.3 687.0,550.7 621.1,588.6 585.6,568.2" fill="#8f8f8f" stroke="#4b4f4e" stroke-width="0.6" stroke-linejoin="round" />
<polygon points="684.4,590.2 637.6,617.1 637.6,586.1 684.4,559.2" fill="#e6e9e8" stroke="#5c605f" stroke-width="0.7" stroke-linejoin="round" />
<polyline points="669.2,598.9 669.2,567.9" fill="none" stroke="#6f7372" stroke-width="1.8" stroke-linecap="round" stroke-linejoin="round" />
<polyline points="653.6,607.9 653.6,576.9" fill="none" stroke="#6f7372" stroke-width="1.8" stroke-linecap="round" stroke-linejoin="round" />
<polygon points="683.5,589.7 670.5,597.2 683.5,564.7" fill="#b4b8b7" />
<polygon points="667.9,598.7 661.0,602.6 654.9,577.1 661.0,573.6" fill="#cdd1d0" />
<polygon points="652.3,607.6 638.4,615.6 638.4,588.6" fill="#b4b8b7" />
<polygon points="652.3,596.6 646.2,611.1 652.3,607.6" fill="#8f9392" />
<polygon points="595.1,589.9 605.7,595.9 605.7,589.8 595.1,583.8" fill="#f2691c" />
<polygon points="602.7,597.6 612.1,603.0 612.1,596.9 602.7,591.5" fill="#f2691c" />
<polygon points="593.4,599.6 604.5,606.0 604.5,599.9 593.4,593.6" fill="#f2691c" />
<polygon points="602.2,608.1 612.1,613.8 612.1,607.7 602.2,602.0" fill="#f2691c" />
<polygon points="583.0,567.7 634.1,597.0 634.1,594.8 583.0,565.5" fill="#7a7c7b" stroke="#55595a" stroke-width="0.6" stroke-linejoin="round" />
<polygon points="704.3,556.6 634.1,597.0 634.1,594.8 704.3,554.4" fill="#a4a6a5" stroke="#55595a" stroke-width="0.6" stroke-linejoin="round" />
<polygon points="653.2,525.1 704.3,554.4 634.1,594.8 583.0,565.5" fill="#929292" stroke="#55595a" stroke-width="0.6" stroke-linejoin="round" />
<polygon points="674.0,537.1 680.9,541.0 610.7,581.4 603.8,577.4" fill="#9b9b9b" />
<ellipse cx="731.8" cy="577.0" rx="35.8" ry="20.5" fill="#dcdddc" stroke="#5d6f68" stroke-width="0.9" />
<polygon points="704.2,575.0 705.5,572.3 707.5,569.7 710.3,567.3 713.7,565.3 717.7,563.6 722.1,562.3 726.8,561.4 731.7,561.0 736.6,561.1 741.4,561.7 746.0,562.7 750.3,564.1 754.1,565.9 757.3,568.1 759.8,570.5 761.6,573.2 762.6,576.0 762.8,578.8 762.1,581.7 760.7,584.4 758.4,586.9 755.5,589.2 751.9,591.2 747.9,592.8 743.4,594.0 738.6,594.7 733.7,595.0 728.8,594.8 724.0,594.1 719.5,593.0 719.5,587.5 724.0,588.6 728.8,589.3 733.7,589.5 738.6,589.2 743.4,588.5 747.9,587.3 751.9,585.7 755.5,583.7 758.4,581.4 760.7,578.9 762.1,576.2 762.8,573.3 762.6,570.5 761.6,567.7 759.8,565.0 757.3,562.6 754.1,560.4 750.3,558.6 746.0,557.2 741.4,556.2 736.6,555.6 731.7,555.5 726.8,555.9 722.1,556.8 717.7,558.1 713.7,559.8 710.3,561.8 707.5,564.2 705.5,566.8 704.2,569.5" fill="#c9c9c2" stroke="#4f625b" stroke-width="0.6" stroke-linejoin="round" />
<polygon points="750.0,579.9 750.9,578.4 751.3,576.9 751.2,575.4 750.6,574.0 749.5,572.6 747.9,571.3 746.0,570.1 743.7,569.1 741.1,568.4 738.3,567.8 735.3,567.6 732.3,567.5 729.3,567.7 729.3,563.7 732.3,563.5 735.3,563.6 738.3,563.8 741.1,564.4 743.7,565.1 746.0,566.1 747.9,567.3 749.5,568.6 750.6,570.0 751.2,571.4 751.3,572.9 750.9,574.4 750.0,575.9" fill="#cfcfc8" />
<polygon points="704.2,569.5 705.5,566.8 707.5,564.2 710.3,561.8 713.7,559.8 717.7,558.1 722.1,556.8 726.8,555.9 731.7,555.5 736.6,555.6 741.4,556.2 746.0,557.2 750.3,558.6 754.1,560.4 757.3,562.6 759.8,565.0 761.6,567.7 762.6,570.5 762.8,573.3 762.1,576.2 760.7,578.9 758.4,581.4 755.5,583.7 751.9,585.7 747.9,587.3 743.4,588.5 738.6,589.2 733.7,589.5 728.8,589.3 724.0,588.6 719.5,587.5 724.8,580.4 727.6,581.0 730.5,581.4 733.6,581.5 736.5,581.4 739.5,581.0 742.2,580.3 744.7,579.5 746.8,578.4 748.6,577.2 750.0,575.9 750.9,574.4 751.3,572.9 751.2,571.4 750.6,570.0 749.5,568.6 747.9,567.3 746.0,566.1 743.7,565.1 741.1,564.4 738.3,563.8 735.3,563.6 732.3,563.5 729.3,563.7 726.4,564.2 723.8,564.9 721.3,565.8 719.3,566.9 717.6,568.1 716.3,569.5 715.6,570.9" fill="#efede6" stroke="#4f625b" stroke-width="0.8" stroke-linejoin="round" />
<polygon points="719.5,587.5 724.8,580.4 724.8,585.9 719.5,593.0" fill="#dcdad2" stroke="#4f625b" stroke-width="0.6" stroke-linejoin="round" />
<polygon points="703.0,577.0 711.0,573.0 716.0,576.0 708.0,580.0" fill="#f3f3f2" stroke="#4f625b" stroke-width="0.7" stroke-linejoin="round" />
<polygon points="703.0,577.0 708.0,580.0 708.0,585.0 703.0,582.0" fill="#bfc3c1" stroke="#4f625b" stroke-width="0.6" stroke-linejoin="round" />
<polygon points="708.0,580.0 716.0,576.0 716.0,581.0 708.0,585.0" fill="#d5d8d6" stroke="#4f625b" stroke-width="0.6" stroke-linejoin="round" />
<g transform="translate(712.5 571.5)">
<path d="M-1.5,0 L5.5,3.5 L6.5,9.5 L9.5,10.5 L9.3,11.8 L5,11 L3.6,6 L-3,3Z" fill="#2f6f56" stroke="#143c30" stroke-width="0.4"/>
<path d="M-3.6,2.8 L-3.2,-6.5 Q0,-8.6 2.8,-6.2 L3.2,2.4Z" fill="#f07a2a" stroke="#143c30" stroke-width="0.4"/>
<circle cx="-0.2" cy="-9.6" r="2.2" fill="#d99a6c" stroke="#143c30" stroke-width="0.3"/>
<path d="M-2.6,-9.6 Q-2.4,-13 0.4,-12.4 Q2.6,-11.6 2,-9.6 Q0.4,-11.2 -1,-10.4 L-1.6,-6.5 L-3,-6.8Z" fill="#b5562a"/>
</g>
<g transform="translate(758.0 556.0) scale(1.70)">
<path d="M-1.8,0 L-1.6,-7 L1.6,-7 L1.9,0 L0.5,0 L0.1,-5 L-0.4,0Z" fill="#3a3f3e" stroke="#143c30" stroke-width="0.4"/>
<path d="M-2.2,-7 L-2.4,-12.2 Q0,-13.6 2.4,-12.2 L2.2,-7Z" fill="#5f9a82" stroke="#143c30" stroke-width="0.4"/>
<circle cx="0" cy="-14.6" r="1.6" fill="#d99a6c" stroke="#143c30" stroke-width="0.3"/>
<path d="M-1.7,-15 Q0,-17.6 1.7,-15 Q0,-16.2 -1.7,-15Z" fill="#a5522a"/>
</g>
<g transform="translate(773.5 557.0) scale(1.70)">
<path d="M-1.8,0 L-1.6,-7 L1.6,-7 L1.9,0 L0.5,0 L0.1,-5 L-0.4,0Z" fill="#2f6f56" stroke="#143c30" stroke-width="0.4"/>
<path d="M-2.2,-7 L-2.4,-12.2 Q0,-13.6 2.4,-12.2 L2.2,-7Z" fill="#5f9a82" stroke="#143c30" stroke-width="0.4"/>
<circle cx="0" cy="-14.6" r="1.6" fill="#d99a6c" stroke="#143c30" stroke-width="0.3"/>
<path d="M-1.7,-15 Q0,-17.6 1.7,-15 Q0,-16.2 -1.7,-15Z" fill="#a5522a"/>
</g>
<polygon points="761.0,538.5 770.0,541.0 768.5,543.5 760.0,541.0" fill="#e9d8c0" stroke="#5b4a3a" stroke-width="0.4" stroke-linejoin="round" />
<path d="M804.5,576.0 L804.5,524.0 Q804.5,514.0 813.5,508.0 L820.5,504.5" fill="none" stroke="#7e8c87" stroke-width="2.6" stroke-linecap="round" stroke-linejoin="round" />
<path d="M804.5,576.0 L804.5,524.0 Q804.5,514.0 813.5,508.0 L820.5,504.5" fill="none" stroke="#b9c4bf" stroke-width="1.2" stroke-linecap="round" stroke-linejoin="round" />
<path d="M819.0,505.5 l7,-3.2" fill="none" stroke="#f4f6f5" stroke-width="3.2" stroke-linecap="round" stroke-linejoin="round" />
<path d="M680.0,608.2 Q680.0,590.1 693.5,589.0 Q707.0,590.1 707.0,608.2 Q704.3,612.1 693.5,611.9 Q682.7,612.1 680.0,608.2 Z" fill="#4c8c6e" stroke="#1f5a44" stroke-width="0.9" stroke-linecap="round" stroke-linejoin="round" />
<path d="M687.4,597.8 Q692.1,591.8 698.2,594.0" fill="none" stroke="#6aa58a" stroke-width="1.6" stroke-linecap="round" stroke-linejoin="round" opacity="0.6"/>
<ellipse cx="743.4" cy="637.0" rx="15.9" ry="5.7" fill="rgba(20,60,45,0.18)" />
<path d="M734.5,636.0 L734.5,624.0" fill="none" stroke="#6b4a3a" stroke-width="2.6" stroke-linecap="round" stroke-linejoin="round" />
<path d="M752.0,607.3 Q752.1,610.1 751.9,612.8 Q751.7,615.5 750.4,618.0 Q749.2,620.5 746.8,622.0 Q744.4,623.4 742.0,624.4 Q739.6,625.4 737.0,626.3 Q734.5,627.1 731.9,626.6 Q729.2,626.0 726.4,625.4 Q723.6,624.7 721.7,622.6 Q719.8,620.5 718.6,618.0 Q717.4,615.5 717.0,612.8 Q716.7,610.1 717.0,607.3 Q717.3,604.6 719.1,602.5 Q720.9,600.4 722.5,598.3 Q724.2,596.2 726.7,595.3 Q729.3,594.4 731.9,593.0 Q734.5,591.7 737.1,593.2 Q739.6,594.6 742.5,595.0 Q745.4,595.4 746.7,597.9 Q748.0,600.5 749.9,602.5 Q751.8,604.6 752.0,607.3Z" fill="#4c8c6e" stroke="#1f5a44" stroke-width="1.0" stroke-linecap="round" stroke-linejoin="round" />
<path d="M743.6,602.7 Q745.4,606.5 741.5,608.7 Q737.6,611.0 735.8,614.2 Q734.0,617.5 730.8,615.4 Q727.6,613.2 723.3,612.0 Q719.0,610.8 721.9,607.5 Q724.8,604.2 725.0,600.2 Q725.3,596.2 729.6,596.0 Q733.9,595.9 737.8,597.4 Q741.7,598.9 743.6,602.7Z" fill="#6aa58a" opacity="0.30"/>
<ellipse cx="736.5" cy="618.9" rx="1.2" ry="1.6" fill="#6aa58a" opacity="0.5"/>
<ellipse cx="736.5" cy="617.3" rx="2.2" ry="1.6" fill="#6aa58a" opacity="0.5"/>
<ellipse cx="722.9" cy="602.5" rx="1.9" ry="1.5" fill="#6aa58a" opacity="0.5"/>
<ellipse cx="734.9" cy="619.9" rx="2.0" ry="1.2" fill="#6aa58a" opacity="0.5"/>
<ellipse cx="732.1" cy="608.7" rx="1.9" ry="1.1" fill="#6aa58a" opacity="0.5"/>
<ellipse cx="726.1" cy="601.8" rx="2.5" ry="1.4" fill="#6aa58a" opacity="0.5"/>
<ellipse cx="729.0" cy="603.0" rx="1.7" ry="1.6" fill="#6aa58a" opacity="0.5"/>
<ellipse cx="729.7" cy="612.9" rx="1.6" ry="0.8" fill="#6aa58a" opacity="0.5"/>
<ellipse cx="738.6" cy="598.1" rx="1.4" ry="1.6" fill="#6aa58a" opacity="0.5"/>
<ellipse cx="725.2" cy="610.5" rx="2.4" ry="0.9" fill="#6aa58a" opacity="0.5"/>
<ellipse cx="732.4" cy="617.4" rx="2.4" ry="1.1" fill="#6aa58a" opacity="0.5"/>
<ellipse cx="727.7" cy="606.3" rx="1.4" ry="1.1" fill="#6aa58a" opacity="0.5"/>
<ellipse cx="730.4" cy="595.8" rx="2.2" ry="0.8" fill="#6aa58a" opacity="0.5"/>
<ellipse cx="727.7" cy="610.0" rx="2.2" ry="1.0" fill="#6aa58a" opacity="0.5"/>
<ellipse cx="745.7" cy="605.9" rx="2.4" ry="1.0" fill="#6aa58a" opacity="0.5"/>
<path d="M712.0,641.2 Q712.0,626.4 722.0,625.5 Q732.0,626.4 732.0,641.2 Q730.0,644.4 722.0,644.2 Q714.0,644.4 712.0,641.2 Z" fill="#4c8c6e" stroke="#1f5a44" stroke-width="0.9" stroke-linecap="round" stroke-linejoin="round" />
<path d="M717.5,632.7 Q721.0,627.8 725.5,629.5" fill="none" stroke="#6aa58a" stroke-width="1.6" stroke-linecap="round" stroke-linejoin="round" opacity="0.6"/>
<path d="M883.5,549.6 Q883.5,534.0 893.5,533.0 Q903.5,534.0 903.5,549.6 Q901.5,553.0 893.5,552.8 Q885.5,553.0 883.5,549.6 Z" fill="#4c8c6e" stroke="#1f5a44" stroke-width="0.9" stroke-linecap="round" stroke-linejoin="round" />
<path d="M889.0,540.6 Q892.5,535.4 897.0,537.3" fill="none" stroke="#6aa58a" stroke-width="1.6" stroke-linecap="round" stroke-linejoin="round" opacity="0.6"/>
<ellipse cx="921.8" cy="582.0" rx="15.5" ry="5.6" fill="rgba(20,60,45,0.18)" />
<path d="M912.5,581.0 L912.5,565.0" fill="none" stroke="#b8863c" stroke-width="2.2" stroke-linecap="round" stroke-linejoin="round" />
<path d="M929.5,537.6 Q930.3,543.0 927.7,547.2 Q925.2,551.5 923.5,554.7 Q921.8,558.0 920.6,563.9 Q919.4,569.8 915.9,567.6 Q912.5,565.5 909.9,564.4 Q907.3,563.3 904.1,562.4 Q901.0,561.5 899.9,556.8 Q898.9,552.1 897.0,547.5 Q895.1,543.0 897.2,538.6 Q899.4,534.3 899.7,528.5 Q899.9,522.7 903.4,522.0 Q906.9,521.2 909.7,519.2 Q912.5,517.2 915.9,517.0 Q919.3,516.7 921.7,520.5 Q924.1,524.3 926.4,528.2 Q928.8,532.1 929.5,537.6Z" fill="#4c8c6e" stroke="#1f5a44" stroke-width="1.0" stroke-linecap="round" stroke-linejoin="round" />
<path d="M919.3,531.3 Q920.1,537.0 919.1,542.4 Q918.0,547.8 915.0,551.8 Q912.1,555.8 909.1,551.7 Q906.2,547.6 904.9,544.2 Q903.6,540.8 901.6,535.8 Q899.6,530.9 902.7,528.1 Q905.8,525.3 908.7,524.3 Q911.5,523.4 915.0,524.4 Q918.5,525.5 919.3,531.3Z" fill="#6aa58a" opacity="0.30"/>
<ellipse cx="903.3" cy="533.4" rx="2.4" ry="1.7" fill="#6aa58a" opacity="0.5"/>
<ellipse cx="912.5" cy="527.8" rx="1.9" ry="1.5" fill="#6aa58a" opacity="0.5"/>
<ellipse cx="905.5" cy="535.5" rx="1.3" ry="1.7" fill="#6aa58a" opacity="0.5"/>
<ellipse cx="913.0" cy="541.7" rx="1.8" ry="0.9" fill="#6aa58a" opacity="0.5"/>
<ellipse cx="912.0" cy="556.4" rx="2.2" ry="1.2" fill="#6aa58a" opacity="0.5"/>
<ellipse cx="920.5" cy="537.0" rx="1.5" ry="1.4" fill="#6aa58a" opacity="0.5"/>
<ellipse cx="913.6" cy="554.3" rx="2.0" ry="0.8" fill="#6aa58a" opacity="0.5"/>
<ellipse cx="901.0" cy="548.3" rx="1.9" ry="1.6" fill="#6aa58a" opacity="0.5"/>
<ellipse cx="909.0" cy="556.0" rx="1.7" ry="0.8" fill="#6aa58a" opacity="0.5"/>
<ellipse cx="905.0" cy="530.9" rx="1.1" ry="0.8" fill="#6aa58a" opacity="0.5"/>
<ellipse cx="899.7" cy="537.2" rx="1.4" ry="1.0" fill="#6aa58a" opacity="0.5"/>
<ellipse cx="903.6" cy="541.6" rx="2.4" ry="1.2" fill="#6aa58a" opacity="0.5"/>
<ellipse cx="906.5" cy="535.8" rx="1.7" ry="1.4" fill="#6aa58a" opacity="0.5"/>
<ellipse cx="907.9" cy="555.6" rx="2.0" ry="0.8" fill="#6aa58a" opacity="0.5"/>
<ellipse cx="902.8" cy="531.5" rx="1.4" ry="0.7" fill="#6aa58a" opacity="0.5"/>
<ellipse cx="913.4" cy="544.2" rx="1.6" ry="1.3" fill="#6aa58a" opacity="0.5"/>
<ellipse cx="910.2" cy="542.0" rx="1.8" ry="1.0" fill="#6aa58a" opacity="0.5"/>
<ellipse cx="908.3" cy="548.7" rx="1.7" ry="1.2" fill="#6aa58a" opacity="0.5"/>
<path d="M925.0,574.8 Q925.0,556.6 937.0,555.5 Q949.0,556.6 949.0,574.8 Q946.6,578.6 937.0,578.4 Q927.4,578.6 925.0,574.8 Z" fill="#4c8c6e" stroke="#1f5a44" stroke-width="0.9" stroke-linecap="round" stroke-linejoin="round" />
<path d="M931.6,564.3 Q935.8,558.2 941.2,560.5" fill="none" stroke="#6aa58a" stroke-width="1.6" stroke-linecap="round" stroke-linejoin="round" opacity="0.6"/>
<path d="M894.0,595.6 Q894.0,576.6 906.0,575.5 Q918.0,576.6 918.0,595.6 Q915.6,599.6 906.0,599.4 Q896.4,599.6 894.0,595.6 Z" fill="#4c8c6e" stroke="#1f5a44" stroke-width="0.9" stroke-linecap="round" stroke-linejoin="round" />
<path d="M900.6,584.7 Q904.8,578.4 910.2,580.7" fill="none" stroke="#6aa58a" stroke-width="1.6" stroke-linecap="round" stroke-linejoin="round" opacity="0.6"/>
</g>
<g id="front">
<ellipse cx="533.0" cy="648.0" rx="22.5" ry="8.0" fill="rgba(20,60,45,0.18)" />
<path d="M520.5,647.0 L520.5,625.0" fill="none" stroke="#5b6a4a" stroke-width="2.6" stroke-linecap="round" stroke-linejoin="round" />
<path d="M543.9,600.8 Q543.8,604.5 543.4,608.1 Q543.0,611.7 541.7,615.2 Q540.4,618.7 538.0,621.8 Q535.6,624.8 531.7,625.7 Q527.8,626.6 524.2,627.1 Q520.5,627.7 516.8,627.3 Q513.1,626.9 509.2,626.0 Q505.3,625.0 503.3,621.6 Q501.3,618.2 498.6,615.3 Q495.9,612.3 495.4,608.4 Q494.9,604.5 496.4,600.9 Q497.9,597.3 499.1,593.7 Q500.2,590.0 503.0,587.4 Q505.9,584.8 509.4,583.2 Q512.9,581.5 516.7,579.9 Q520.5,578.3 524.1,580.4 Q527.8,582.5 531.0,584.3 Q534.2,586.0 538.1,587.6 Q542.0,589.2 543.0,593.1 Q544.0,597.0 543.9,600.8Z" fill="#4c8c6e" stroke="#1f5a44" stroke-width="1.0" stroke-linecap="round" stroke-linejoin="round" />
<path d="M529.5,595.6 Q532.0,599.5 530.4,604.1 Q528.8,608.8 524.4,612.3 Q519.9,615.8 513.7,615.0 Q507.5,614.3 503.4,609.8 Q499.4,605.3 501.6,600.2 Q503.8,595.2 505.5,589.8 Q507.2,584.4 513.2,585.5 Q519.2,586.6 523.1,589.1 Q526.9,591.7 529.5,595.6Z" fill="#6aa58a" opacity="0.30"/>
<ellipse cx="516.4" cy="608.3" rx="2.5" ry="1.0" fill="#6aa58a" opacity="0.5"/>
<ellipse cx="523.7" cy="620.4" rx="1.1" ry="1.4" fill="#6aa58a" opacity="0.5"/>
<ellipse cx="513.3" cy="609.2" rx="1.5" ry="0.9" fill="#6aa58a" opacity="0.5"/>
<ellipse cx="506.1" cy="588.6" rx="1.7" ry="0.9" fill="#6aa58a" opacity="0.5"/>
<ellipse cx="518.6" cy="615.9" rx="1.2" ry="1.4" fill="#6aa58a" opacity="0.5"/>
<ellipse cx="527.8" cy="611.9" rx="1.9" ry="1.2" fill="#6aa58a" opacity="0.5"/>
<ellipse cx="517.7" cy="621.1" rx="1.8" ry="1.6" fill="#6aa58a" opacity="0.5"/>
<ellipse cx="526.2" cy="618.8" rx="2.5" ry="1.0" fill="#6aa58a" opacity="0.5"/>
<ellipse cx="513.8" cy="584.6" rx="2.5" ry="1.3" fill="#6aa58a" opacity="0.5"/>
<ellipse cx="501.8" cy="596.3" rx="1.7" ry="0.8" fill="#6aa58a" opacity="0.5"/>
<ellipse cx="520.1" cy="605.4" rx="1.2" ry="1.3" fill="#6aa58a" opacity="0.5"/>
<ellipse cx="524.4" cy="591.5" rx="1.1" ry="0.9" fill="#6aa58a" opacity="0.5"/>
<ellipse cx="526.1" cy="617.8" rx="1.1" ry="1.1" fill="#6aa58a" opacity="0.5"/>
<ellipse cx="529.1" cy="590.0" rx="1.7" ry="0.7" fill="#6aa58a" opacity="0.5"/>
<ellipse cx="516.7" cy="594.1" rx="2.4" ry="1.2" fill="#6aa58a" opacity="0.5"/>
<ellipse cx="501.8" cy="602.4" rx="1.2" ry="1.2" fill="#6aa58a" opacity="0.5"/>
<ellipse cx="516.6" cy="607.7" rx="1.3" ry="1.6" fill="#6aa58a" opacity="0.5"/>
<ellipse cx="530.2" cy="599.1" rx="1.3" ry="1.4" fill="#6aa58a" opacity="0.5"/>
<ellipse cx="521.6" cy="618.1" rx="1.1" ry="0.7" fill="#6aa58a" opacity="0.5"/>
<ellipse cx="521.3" cy="604.5" rx="2.2" ry="1.6" fill="#6aa58a" opacity="0.5"/>
<ellipse cx="523.7" cy="612.3" rx="2.2" ry="1.2" fill="#6aa58a" opacity="0.5"/>
<ellipse cx="507.7" cy="585.7" rx="1.1" ry="1.5" fill="#6aa58a" opacity="0.5"/>
<ellipse cx="586.2" cy="677.0" rx="14.5" ry="5.2" fill="rgba(20,60,45,0.18)" />
<path d="M577.5,676.0 L577.5,659.0" fill="none" stroke="#8a7a48" stroke-width="2.2" stroke-linecap="round" stroke-linejoin="round" />
<path d="M589.7,632.8 Q590.0,637.0 589.9,641.3 Q589.7,645.7 588.4,649.6 Q587.1,653.6 585.4,658.3 Q583.8,663.1 580.6,662.5 Q577.5,662.0 574.5,661.8 Q571.6,661.7 570.1,657.1 Q568.6,652.4 566.3,649.5 Q564.1,646.6 562.7,641.8 Q561.4,637.0 562.7,632.2 Q564.0,627.4 564.9,622.1 Q565.8,616.8 568.5,613.9 Q571.3,611.1 574.4,612.1 Q577.5,613.0 579.8,615.3 Q582.2,617.6 585.4,617.7 Q588.6,617.9 588.9,623.2 Q589.3,628.6 589.7,632.8Z" fill="#4c8c6e" stroke="#1f5a44" stroke-width="1.0" stroke-linecap="round" stroke-linejoin="round" />
<path d="M583.4,626.1 Q584.8,631.0 582.5,634.6 Q580.2,638.3 578.5,642.5 Q576.8,646.8 573.4,646.7 Q569.9,646.7 567.7,641.9 Q565.4,637.2 566.1,631.5 Q566.9,625.8 568.7,621.4 Q570.5,617.0 573.5,617.2 Q576.6,617.4 579.3,619.3 Q582.0,621.2 583.4,626.1Z" fill="#6aa58a" opacity="0.30"/>
<ellipse cx="574.6" cy="625.2" rx="2.2" ry="1.6" fill="#6aa58a" opacity="0.5"/>
<ellipse cx="574.8" cy="626.2" rx="2.4" ry="1.5" fill="#6aa58a" opacity="0.5"/>
<ellipse cx="577.0" cy="635.9" rx="1.3" ry="0.7" fill="#6aa58a" opacity="0.5"/>
<ellipse cx="573.4" cy="621.2" rx="2.5" ry="0.9" fill="#6aa58a" opacity="0.5"/>
<ellipse cx="575.4" cy="640.6" rx="2.6" ry="1.1" fill="#6aa58a" opacity="0.5"/>
<ellipse cx="578.1" cy="638.1" rx="2.3" ry="1.4" fill="#6aa58a" opacity="0.5"/>
<ellipse cx="582.6" cy="646.0" rx="2.0" ry="1.0" fill="#6aa58a" opacity="0.5"/>
<ellipse cx="580.1" cy="619.5" rx="2.6" ry="1.2" fill="#6aa58a" opacity="0.5"/>
<ellipse cx="580.6" cy="626.6" rx="1.1" ry="0.9" fill="#6aa58a" opacity="0.5"/>
<ellipse cx="583.0" cy="632.5" rx="1.3" ry="1.4" fill="#6aa58a" opacity="0.5"/>
<ellipse cx="571.2" cy="628.5" rx="2.3" ry="1.6" fill="#6aa58a" opacity="0.5"/>
<ellipse cx="576.4" cy="617.3" rx="2.1" ry="1.1" fill="#6aa58a" opacity="0.5"/>
<ellipse cx="585.8" cy="643.2" rx="1.3" ry="0.9" fill="#6aa58a" opacity="0.5"/>
<ellipse cx="566.3" cy="624.4" rx="1.2" ry="1.4" fill="#6aa58a" opacity="0.5"/>
<ellipse cx="580.2" cy="631.7" rx="2.0" ry="0.8" fill="#6aa58a" opacity="0.5"/>
<ellipse cx="587.2" cy="638.1" rx="2.3" ry="1.7" fill="#6aa58a" opacity="0.5"/>
<ellipse cx="578.9" cy="627.3" rx="1.9" ry="1.0" fill="#6aa58a" opacity="0.5"/>
<polygon points="134.9,472.2 149.6,480.7 149.6,424.7 134.9,416.2" fill="#0f4335" stroke="#0a2f26" stroke-width="0.5" stroke-linejoin="round" />
<polygon points="149.6,480.7 153.1,478.7 153.1,422.7 149.6,424.7" fill="#0a2f26" />
<polygon points="134.9,416.2 149.6,424.7 153.1,422.7 138.3,414.2" fill="#1b5a45" />
<polygon points="135.5,471.8 148.5,479.3 148.5,426.3 135.5,418.8" fill="#f2691c" />
<polygon points="135.5,441.6 148.5,449.1 148.5,426.3 135.5,418.8" fill="#f6f6f4" />
<polygon points="139.6,429.5 144.4,432.3 144.4,429.5 139.6,426.7" fill="#f2691c" />
<polygon points="143.1,433.1 147.4,435.5 147.4,432.7 143.1,430.3" fill="#f2691c" />
<polygon points="138.8,434.0 143.9,436.9 143.9,434.2 138.8,431.2" fill="#f2691c" />
<polygon points="142.8,437.9 147.4,440.5 147.4,437.7 142.8,435.1" fill="#f2691c" />
<polyline points="138.3,439.2 145.3,443.2" fill="none" stroke="#c9563a" stroke-width="0.7" stroke-linecap="round" stroke-linejoin="round" />
<polygon points="77.6,452.3 129.7,482.2 129.7,450.2 77.6,420.3" fill="#a3a8a6" stroke="#5f6a66" stroke-width="0.6" stroke-linejoin="round" />
<polyline points="79.4,452.3 79.4,422.3" fill="none" stroke="#7d8482" stroke-width="0.55" stroke-linecap="round" stroke-linejoin="round" />
<polyline points="81.1,453.3 81.1,423.3" fill="none" stroke="#7d8482" stroke-width="0.55" stroke-linecap="round" stroke-linejoin="round" />
<polyline points="82.8,454.3 82.8,424.3" fill="none" stroke="#7d8482" stroke-width="0.55" stroke-linecap="round" stroke-linejoin="round" />
<polyline points="84.6,455.3 84.6,425.3" fill="none" stroke="#7d8482" stroke-width="0.55" stroke-linecap="round" stroke-linejoin="round" />
<polyline points="86.3,456.3 86.3,426.3" fill="none" stroke="#7d8482" stroke-width="0.55" stroke-linecap="round" stroke-linejoin="round" />
<polyline points="88.0,457.3 88.0,427.3" fill="none" stroke="#7d8482" stroke-width="0.55" stroke-linecap="round" stroke-linejoin="round" />
<polyline points="89.8,458.3 89.8,428.3" fill="none" stroke="#7d8482" stroke-width="0.55" stroke-linecap="round" stroke-linejoin="round" />
<polyline points="91.5,459.3 91.5,429.3" fill="none" stroke="#7d8482" stroke-width="0.55" stroke-linecap="round" stroke-linejoin="round" />
<polyline points="93.2,460.3 93.2,430.3" fill="none" stroke="#7d8482" stroke-width="0.55" stroke-linecap="round" stroke-linejoin="round" />
<polyline points="95.0,461.3 95.0,431.3" fill="none" stroke="#7d8482" stroke-width="0.55" stroke-linecap="round" stroke-linejoin="round" />
<polyline points="96.7,462.3 96.7,432.3" fill="none" stroke="#7d8482" stroke-width="0.55" stroke-linecap="round" stroke-linejoin="round" />
<polyline points="98.4,463.3 98.4,433.3" fill="none" stroke="#7d8482" stroke-width="0.55" stroke-linecap="round" stroke-linejoin="round" />
<polyline points="100.2,464.3 100.2,434.3" fill="none" stroke="#7d8482" stroke-width="0.55" stroke-linecap="round" stroke-linejoin="round" />
<polyline points="101.9,465.3 101.9,435.3" fill="none" stroke="#7d8482" stroke-width="0.55" stroke-linecap="round" stroke-linejoin="round" />
<polyline points="103.6,466.3 103.6,436.3" fill="none" stroke="#7d8482" stroke-width="0.55" stroke-linecap="round" stroke-linejoin="round" />
<polyline points="105.4,467.2 105.4,437.2" fill="none" stroke="#7d8482" stroke-width="0.55" stroke-linecap="round" stroke-linejoin="round" />
<polyline points="107.1,468.2 107.1,438.2" fill="none" stroke="#7d8482" stroke-width="0.55" stroke-linecap="round" stroke-linejoin="round" />
<polyline points="108.9,469.2 108.9,439.2" fill="none" stroke="#7d8482" stroke-width="0.55" stroke-linecap="round" stroke-linejoin="round" />
<polyline points="110.6,470.2 110.6,440.2" fill="none" stroke="#7d8482" stroke-width="0.55" stroke-linecap="round" stroke-linejoin="round" />
<polyline points="112.3,471.2 112.3,441.2" fill="none" stroke="#7d8482" stroke-width="0.55" stroke-linecap="round" stroke-linejoin="round" />
<polyline points="114.1,472.2 114.1,442.2" fill="none" stroke="#7d8482" stroke-width="0.55" stroke-linecap="round" stroke-linejoin="round" />
<polyline points="115.8,473.2 115.8,443.2" fill="none" stroke="#7d8482" stroke-width="0.55" stroke-linecap="round" stroke-linejoin="round" />
<polyline points="117.5,474.2 117.5,444.2" fill="none" stroke="#7d8482" stroke-width="0.55" stroke-linecap="round" stroke-linejoin="round" />
<polyline points="119.3,475.2 119.3,445.2" fill="none" stroke="#7d8482" stroke-width="0.55" stroke-linecap="round" stroke-linejoin="round" />
<polyline points="121.0,476.2 121.0,446.2" fill="none" stroke="#7d8482" stroke-width="0.55" stroke-linecap="round" stroke-linejoin="round" />
<polyline points="122.7,477.2 122.7,447.2" fill="none" stroke="#7d8482" stroke-width="0.55" stroke-linecap="round" stroke-linejoin="round" />
<polyline points="124.5,478.2 124.5,448.2" fill="none" stroke="#7d8482" stroke-width="0.55" stroke-linecap="round" stroke-linejoin="round" />
<polyline points="126.2,479.2 126.2,449.2" fill="none" stroke="#7d8482" stroke-width="0.55" stroke-linecap="round" stroke-linejoin="round" />
<polyline points="127.9,480.2 127.9,450.2" fill="none" stroke="#7d8482" stroke-width="0.55" stroke-linecap="round" stroke-linejoin="round" />
<polyline points="94.8,462.2 94.8,430.2" fill="none" stroke="#6a726f" stroke-width="1.1" stroke-linecap="round" stroke-linejoin="round" />
<polyline points="112.0,472.0 112.0,440.0" fill="none" stroke="#6a726f" stroke-width="1.1" stroke-linecap="round" stroke-linejoin="round" />
<polygon points="619.9,708.5 668.8,736.5 668.8,708.5 619.9,680.5" fill="#a3a8a6" stroke="#5f6a66" stroke-width="0.6" stroke-linejoin="round" />
<polyline points="621.6,708.5 621.6,682.5" fill="none" stroke="#7d8482" stroke-width="0.55" stroke-linecap="round" stroke-linejoin="round" />
<polyline points="623.4,709.5 623.4,683.5" fill="none" stroke="#7d8482" stroke-width="0.55" stroke-linecap="round" stroke-linejoin="round" />
<polyline points="625.1,710.5 625.1,684.5" fill="none" stroke="#7d8482" stroke-width="0.55" stroke-linecap="round" stroke-linejoin="round" />
<polyline points="626.9,711.5 626.9,685.5" fill="none" stroke="#7d8482" stroke-width="0.55" stroke-linecap="round" stroke-linejoin="round" />
<polyline points="628.6,712.5 628.6,686.5" fill="none" stroke="#7d8482" stroke-width="0.55" stroke-linecap="round" stroke-linejoin="round" />
<polyline points="630.4,713.5 630.4,687.5" fill="none" stroke="#7d8482" stroke-width="0.55" stroke-linecap="round" stroke-linejoin="round" />
<polyline points="632.1,714.5 632.1,688.5" fill="none" stroke="#7d8482" stroke-width="0.55" stroke-linecap="round" stroke-linejoin="round" />
<polyline points="633.9,715.5 633.9,689.5" fill="none" stroke="#7d8482" stroke-width="0.55" stroke-linecap="round" stroke-linejoin="round" />
<polyline points="635.6,716.5 635.6,690.5" fill="none" stroke="#7d8482" stroke-width="0.55" stroke-linecap="round" stroke-linejoin="round" />
<polyline points="637.4,717.5 637.4,691.5" fill="none" stroke="#7d8482" stroke-width="0.55" stroke-linecap="round" stroke-linejoin="round" />
<polyline points="639.1,718.5 639.1,692.5" fill="none" stroke="#7d8482" stroke-width="0.55" stroke-linecap="round" stroke-linejoin="round" />
<polyline points="640.9,719.5 640.9,693.5" fill="none" stroke="#7d8482" stroke-width="0.55" stroke-linecap="round" stroke-linejoin="round" />
<polyline points="642.6,720.5 642.6,694.5" fill="none" stroke="#7d8482" stroke-width="0.55" stroke-linecap="round" stroke-linejoin="round" />
<polyline points="644.4,721.5 644.4,695.5" fill="none" stroke="#7d8482" stroke-width="0.55" stroke-linecap="round" stroke-linejoin="round" />
<polyline points="646.1,722.5 646.1,696.5" fill="none" stroke="#7d8482" stroke-width="0.55" stroke-linecap="round" stroke-linejoin="round" />
<polyline points="647.8,723.5 647.8,697.5" fill="none" stroke="#7d8482" stroke-width="0.55" stroke-linecap="round" stroke-linejoin="round" />
<polyline points="649.6,724.5 649.6,698.5" fill="none" stroke="#7d8482" stroke-width="0.55" stroke-linecap="round" stroke-linejoin="round" />
<polyline points="651.3,725.5 651.3,699.5" fill="none" stroke="#7d8482" stroke-width="0.55" stroke-linecap="round" stroke-linejoin="round" />
<polyline points="653.1,726.5 653.1,700.5" fill="none" stroke="#7d8482" stroke-width="0.55" stroke-linecap="round" stroke-linejoin="round" />
<polyline points="654.8,727.5 654.8,701.5" fill="none" stroke="#7d8482" stroke-width="0.55" stroke-linecap="round" stroke-linejoin="round" />
<polyline points="656.6,728.5 656.6,702.5" fill="none" stroke="#7d8482" stroke-width="0.55" stroke-linecap="round" stroke-linejoin="round" />
<polyline points="658.3,729.5 658.3,703.5" fill="none" stroke="#7d8482" stroke-width="0.55" stroke-linecap="round" stroke-linejoin="round" />
<polyline points="660.1,730.5 660.1,704.5" fill="none" stroke="#7d8482" stroke-width="0.55" stroke-linecap="round" stroke-linejoin="round" />
<polyline points="661.8,731.5 661.8,705.5" fill="none" stroke="#7d8482" stroke-width="0.55" stroke-linecap="round" stroke-linejoin="round" />
<polyline points="663.6,732.5 663.6,706.5" fill="none" stroke="#7d8482" stroke-width="0.55" stroke-linecap="round" stroke-linejoin="round" />
<polyline points="665.3,733.5 665.3,707.5" fill="none" stroke="#7d8482" stroke-width="0.55" stroke-linecap="round" stroke-linejoin="round" />
<polyline points="667.1,734.5 667.1,708.5" fill="none" stroke="#7d8482" stroke-width="0.55" stroke-linecap="round" stroke-linejoin="round" />
<polyline points="636.0,717.7 636.0,689.7" fill="none" stroke="#6a726f" stroke-width="1.1" stroke-linecap="round" stroke-linejoin="round" />
<polyline points="652.2,727.0 652.2,699.0" fill="none" stroke="#6a726f" stroke-width="1.1" stroke-linecap="round" stroke-linejoin="round" />
<polygon points="594.3,693.8 605.6,700.3 605.6,673.3 594.3,666.8" fill="#a3a8a6" stroke="#5f6a66" stroke-width="0.6" stroke-linejoin="round" />
<polyline points="596.2,693.9 596.2,668.9" fill="none" stroke="#7d8482" stroke-width="0.55" stroke-linecap="round" stroke-linejoin="round" />
<polyline points="598.0,695.0 598.0,670.0" fill="none" stroke="#7d8482" stroke-width="0.55" stroke-linecap="round" stroke-linejoin="round" />
<polyline points="599.9,696.0 599.9,671.0" fill="none" stroke="#7d8482" stroke-width="0.55" stroke-linecap="round" stroke-linejoin="round" />
<polyline points="601.8,697.1 601.8,672.1" fill="none" stroke="#7d8482" stroke-width="0.55" stroke-linecap="round" stroke-linejoin="round" />
<polyline points="603.7,698.2 603.7,673.2" fill="none" stroke="#7d8482" stroke-width="0.55" stroke-linecap="round" stroke-linejoin="round" />
<polyline points="598.0,695.9 598.0,668.9" fill="none" stroke="#6a726f" stroke-width="1.1" stroke-linecap="round" stroke-linejoin="round" />
<polyline points="601.7,698.1 601.7,671.1" fill="none" stroke="#6a726f" stroke-width="1.1" stroke-linecap="round" stroke-linejoin="round" />
<polygon points="673.6,729.3 687.9,737.5 687.9,722.5 673.6,714.3" fill="#7d8280" stroke="#3f4745" stroke-width="0.5" stroke-linejoin="round" />
<polygon points="706.1,727.1 687.9,737.5 687.9,722.5 706.1,712.1" fill="#6a6f6d" stroke="#3f4745" stroke-width="0.5" stroke-linejoin="round" />
<polygon points="691.8,703.9 706.1,712.1 687.9,722.5 673.6,714.3" fill="#8b908e" stroke="#3f4745" stroke-width="0.5" stroke-linejoin="round" />
<polyline points="706.1,725.0 687.9,735.4" fill="none" stroke="#4f5553" stroke-width="0.5" stroke-linecap="round" stroke-linejoin="round" />
<polyline points="706.1,722.9 687.9,733.3" fill="none" stroke="#4f5553" stroke-width="0.5" stroke-linecap="round" stroke-linejoin="round" />
<polyline points="706.1,720.8 687.9,731.2" fill="none" stroke="#4f5553" stroke-width="0.5" stroke-linecap="round" stroke-linejoin="round" />
<polyline points="706.1,718.7 687.9,729.1" fill="none" stroke="#4f5553" stroke-width="0.5" stroke-linecap="round" stroke-linejoin="round" />
<polyline points="706.1,716.6 687.9,727.0" fill="none" stroke="#4f5553" stroke-width="0.5" stroke-linecap="round" stroke-linejoin="round" />
<polyline points="706.1,714.5 687.9,724.9" fill="none" stroke="#4f5553" stroke-width="0.5" stroke-linecap="round" stroke-linejoin="round" />
<path d="M670.7,738.0 L670.7,663.5" fill="none" stroke="#1d5a46" stroke-width="1.8" stroke-linecap="round" stroke-linejoin="round" />
<rect x="661.6" y="662.4" width="8.6" height="3.6" rx="1.5" fill="#f1f3f2" stroke="#8c9a95" stroke-width="0.4" transform="rotate(22 665.9 664.2)"/>
<rect x="660.9" y="671.3" width="8.6" height="3.6" rx="1.5" fill="#f1f3f2" stroke="#8c9a95" stroke-width="0.4" transform="rotate(-24 665.2 673.1)"/>
<rect x="671.9" y="669.0" width="8.6" height="3.6" rx="1.5" fill="#f1f3f2" stroke="#8c9a95" stroke-width="0.4" transform="rotate(-20 676.2 670.8)"/>
<polygon points="969.5,577.5 681.0,743.5 681.0,749.0 969.5,583.0" fill="#f2f3f2" />
<polygon points="681.0,743.5 659.3,731.1 659.3,736.6 681.0,749.0" fill="#e6e8e6" />
<polygon points="659.3,731.1 609.9,702.8 609.9,708.3 659.3,736.6" fill="#8fbfa6" />
<polygon points="609.9,702.8 218.1,478.1 218.1,483.6 609.9,708.3" fill="#e6e8e6" />
<polygon points="218.1,478.1 131.4,483.2 131.4,488.7 218.1,483.6" fill="#e9ebe9" />
<polygon points="131.4,483.2 56.8,440.4 56.8,449.9 131.4,492.7" fill="#4a3029" />
<polygon points="131.4,483.2 56.8,440.4 56.8,443.6 131.4,486.4" fill="#e3e6e4" />
<polygon points="602.1,702.3 616.0,710.2 616.0,654.2 602.1,646.3" fill="#0f4335" stroke="#0a2f26" stroke-width="0.5" stroke-linejoin="round" />
<polygon points="616.0,710.2 619.4,708.2 619.4,652.2 616.0,654.2" fill="#0a2f26" />
<polygon points="602.1,646.3 616.0,654.2 619.4,652.2 605.6,644.3" fill="#1b5a45" />
<polygon points="602.8,701.9 614.9,708.8 614.9,655.8 602.8,648.9" fill="#f2691c" />
<polygon points="602.8,671.7 614.9,678.6 614.9,655.8 602.8,648.9" fill="#f6f6f4" />
<polygon points="606.8,659.6 611.6,662.3 611.6,659.6 606.8,656.8" fill="#f2691c" />
<polygon points="610.3,663.1 614.6,665.6 614.6,662.8 610.3,660.3" fill="#f2691c" />
<polygon points="606.0,664.1 611.1,667.0 611.1,664.2 606.0,661.3" fill="#f2691c" />
<polygon points="610.0,667.9 614.6,670.5 614.6,667.8 610.0,665.1" fill="#f2691c" />
<polyline points="605.6,669.2 611.6,672.7" fill="none" stroke="#c9563a" stroke-width="0.7" stroke-linecap="round" stroke-linejoin="round" />
<polygon points="969.5,577.5 681.0,743.5 681.0,720.0 969.5,554.0" fill="url(#meshf)" />
<polyline points="969.5,554.0 681.0,720.0" fill="none" stroke="#5b8f7b" stroke-width="0.7" stroke-linecap="round" stroke-linejoin="round" />
<polyline points="931.2,604.5 931.2,574.5" fill="none" stroke="#1b5a45" stroke-width="1.7" stroke-linecap="round" stroke-linejoin="round" stroke-linecap="butt"/>
<polyline points="893.7,626.1 893.7,596.1" fill="none" stroke="#1b5a45" stroke-width="1.7" stroke-linecap="round" stroke-linejoin="round" stroke-linecap="butt"/>
<polyline points="856.2,647.7 856.2,617.7" fill="none" stroke="#1b5a45" stroke-width="1.7" stroke-linecap="round" stroke-linejoin="round" stroke-linecap="butt"/>
<polyline points="818.6,669.3 818.6,639.3" fill="none" stroke="#1b5a45" stroke-width="1.7" stroke-linecap="round" stroke-linejoin="round" stroke-linecap="butt"/>
<polyline points="781.1,690.9 781.1,660.9" fill="none" stroke="#1b5a45" stroke-width="1.7" stroke-linecap="round" stroke-linejoin="round" stroke-linecap="butt"/>
<polyline points="743.6,712.5 743.6,682.5" fill="none" stroke="#1b5a45" stroke-width="1.7" stroke-linecap="round" stroke-linejoin="round" stroke-linecap="butt"/>
<polyline points="706.1,734.0 706.1,704.0" fill="none" stroke="#1b5a45" stroke-width="1.7" stroke-linecap="round" stroke-linejoin="round" stroke-linecap="butt"/>
<polyline points="681.0,748.5 681.0,718.5" fill="none" stroke="#1b5a45" stroke-width="1.7" stroke-linecap="round" stroke-linejoin="round" stroke-linecap="butt"/>
<polygon points="681.0,743.5 668.8,736.5 668.8,713.0 681.0,720.0" fill="url(#meshf)" />
<polyline points="681.0,720.0 668.8,713.0" fill="none" stroke="#5b8f7b" stroke-width="0.7" stroke-linecap="round" stroke-linejoin="round" />
<polyline points="668.8,741.5 668.8,711.5" fill="none" stroke="#1b5a45" stroke-width="1.7" stroke-linecap="round" stroke-linejoin="round" stroke-linecap="butt"/>
<polygon points="605.6,700.3 218.1,478.1 218.1,454.6 605.6,676.8" fill="url(#meshf)" />
<polyline points="605.6,676.8 218.1,454.6" fill="none" stroke="#5b8f7b" stroke-width="0.7" stroke-linecap="round" stroke-linejoin="round" />
<polyline points="230.9,490.5 230.9,460.5" fill="none" stroke="#1b5a45" stroke-width="1.7" stroke-linecap="round" stroke-linejoin="round" stroke-linecap="butt"/>
<polyline points="268.4,512.0 268.4,482.0" fill="none" stroke="#1b5a45" stroke-width="1.7" stroke-linecap="round" stroke-linejoin="round" stroke-linecap="butt"/>
<polyline points="306.0,533.5 306.0,503.5" fill="none" stroke="#1b5a45" stroke-width="1.7" stroke-linecap="round" stroke-linejoin="round" stroke-linecap="butt"/>
<polyline points="343.5,555.0 343.5,525.0" fill="none" stroke="#1b5a45" stroke-width="1.7" stroke-linecap="round" stroke-linejoin="round" stroke-linecap="butt"/>
<polyline points="381.0,576.5 381.0,546.5" fill="none" stroke="#1b5a45" stroke-width="1.7" stroke-linecap="round" stroke-linejoin="round" stroke-linecap="butt"/>
<polyline points="418.6,598.1 418.6,568.1" fill="none" stroke="#1b5a45" stroke-width="1.7" stroke-linecap="round" stroke-linejoin="round" stroke-linecap="butt"/>
<polyline points="456.1,619.6 456.1,589.6" fill="none" stroke="#1b5a45" stroke-width="1.7" stroke-linecap="round" stroke-linejoin="round" stroke-linecap="butt"/>
<polyline points="493.6,641.1 493.6,611.1" fill="none" stroke="#1b5a45" stroke-width="1.7" stroke-linecap="round" stroke-linejoin="round" stroke-linecap="butt"/>
<polyline points="531.2,662.6 531.2,632.6" fill="none" stroke="#1b5a45" stroke-width="1.7" stroke-linecap="round" stroke-linejoin="round" stroke-linecap="butt"/>
<polyline points="568.7,684.1 568.7,654.1" fill="none" stroke="#1b5a45" stroke-width="1.7" stroke-linecap="round" stroke-linejoin="round" stroke-linecap="butt"/>
<polyline points="218.1,483.1 218.1,453.1" fill="none" stroke="#1b5a45" stroke-width="1.7" stroke-linecap="round" stroke-linejoin="round" stroke-linecap="butt"/>
<polygon points="218.1,478.1 131.4,483.2 131.4,459.7 218.1,454.6" fill="url(#meshf)" />
<polyline points="218.1,454.6 131.4,459.7" fill="none" stroke="#5b8f7b" stroke-width="0.7" stroke-linecap="round" stroke-linejoin="round" />
<polyline points="131.4,488.2 131.4,458.2" fill="none" stroke="#1b5a45" stroke-width="1.7" stroke-linecap="round" stroke-linejoin="round" stroke-linecap="butt"/>
<polygon points="77.6,452.3 56.8,440.4 56.8,416.9 77.6,428.8" fill="url(#meshf)" />
<polyline points="77.6,428.8 56.8,416.9" fill="none" stroke="#5b8f7b" stroke-width="0.7" stroke-linecap="round" stroke-linejoin="round" />
<polyline points="77.6,457.3 77.6,427.3" fill="none" stroke="#1b5a45" stroke-width="1.7" stroke-linecap="round" stroke-linejoin="round" stroke-linecap="butt"/>
<polyline points="56.8,445.4 56.8,415.4" fill="none" stroke="#1b5a45" stroke-width="1.7" stroke-linecap="round" stroke-linejoin="round" stroke-linecap="butt"/>
</g>
<g id="leaders" fill="none" stroke-linecap="round" stroke-linejoin="round">
<path d="M926.7,507.4 L772,595 Q759,602.5 746,602.5 L651,602.5" stroke="#d6e9df" stroke-width="3.6"/>
<path d="M929.5,753 L822,753 Q812,753 803,748 L677,675.5" stroke="#d6e9df" stroke-width="3.6"/>
<path d="M465,769.5 L610.5,686" stroke="#d6e9df" stroke-width="3.6"/>
<path d="M292.5,697 L536.7,555.4" stroke="#d6e9df" stroke-width="3.6"/>
<path d="M277.6,527.4 L199,572 Q187,579 198,585.5 L286,636.5 Q298,643.5 310,636.5 L336.9,624.4" stroke="#d6e9df" stroke-width="3.6"/>
<path d="M301.7,557 L223.2,602.4" stroke="#d6e9df" stroke-width="3.6"/>
<path d="M327.5,586 L261.9,624.2" stroke="#d6e9df" stroke-width="3.6"/>
<path d="M152.5,641.3 L186,641.3 Q196,641.3 205,636 L242,614.3" stroke="#d6e9df" stroke-width="3.6"/>
<path d="M178,285 L178,312 Q178,320 171,324 L112,358.5 Q102.5,364 102.5,375 L102.5,437" stroke="#14201d" stroke-width="1.5"/>
<path d="M490,170 L490,469" stroke="#14201d" stroke-width="1.5"/>
<path d="M786,277 L786,283 Q786,291.5 778,296 L569,417 Q550.4,428 550.4,446 L550.4,503.7" stroke="#14201d" stroke-width="1.5"/>
<path d="M801,384.5 L642.3,481.5" stroke="#14201d" stroke-width="1.5"/>
<path d="M894.5,435.5 L768,508 Q755,515.4 742,515.4 L609.7,515.4" stroke="#14201d" stroke-width="1.5"/>
<path d="M926.7,507.4 L772,595 Q759,602.5 746,602.5 L651,602.5" stroke="#14201d" stroke-width="1.5"/>
<path d="M929.5,753 L822,753 Q812,753 803,748 L677,675.5" stroke="#14201d" stroke-width="1.5"/>
<path d="M465,769.5 L610.5,686" stroke="#14201d" stroke-width="1.5"/>
<path d="M292.5,697 L536.7,555.4" stroke="#14201d" stroke-width="1.5"/>
<path d="M277.6,527.4 L199,572 Q187,579 198,585.5 L286,636.5 Q298,643.5 310,636.5 L336.9,624.4" stroke="#14201d" stroke-width="1.5"/>
<path d="M301.7,557 L223.2,602.4" stroke="#14201d" stroke-width="1.5"/>
<path d="M327.5,586 L261.9,624.2" stroke="#14201d" stroke-width="1.5"/>
<path d="M152.5,641.3 L186,641.3 Q196,641.3 205,636 L242,614.3" stroke="#14201d" stroke-width="1.5"/>
<circle cx="102.5" cy="437.0" r="2.6" fill="#0b0f0e" stroke="#f4f8f6" stroke-width="1.2"/>
<circle cx="490.0" cy="469.0" r="2.6" fill="#0b0f0e" stroke="#f4f8f6" stroke-width="1.2"/>
<circle cx="550.4" cy="503.7" r="2.6" fill="#0b0f0e" stroke="#f4f8f6" stroke-width="1.2"/>
<circle cx="642.3" cy="481.5" r="2.6" fill="#0b0f0e" stroke="#f4f8f6" stroke-width="1.2"/>
<circle cx="609.7" cy="515.4" r="2.6" fill="#0b0f0e" stroke="#f4f8f6" stroke-width="1.2"/>
<circle cx="651.0" cy="602.5" r="2.6" fill="#0b0f0e" stroke="#f4f8f6" stroke-width="1.2"/>
<circle cx="677.0" cy="675.5" r="2.6" fill="#0b0f0e" stroke="#f4f8f6" stroke-width="1.2"/>
<circle cx="610.5" cy="686.0" r="2.6" fill="#0b0f0e" stroke="#f4f8f6" stroke-width="1.2"/>
<circle cx="536.7" cy="555.4" r="2.6" fill="#0b0f0e" stroke="#f4f8f6" stroke-width="1.2"/>
<circle cx="277.6" cy="527.4" r="2.6" fill="#0b0f0e" stroke="#f4f8f6" stroke-width="1.2"/>
<circle cx="336.9" cy="624.4" r="2.6" fill="#0b0f0e" stroke="#f4f8f6" stroke-width="1.2"/>
<circle cx="301.7" cy="557.0" r="2.6" fill="#0b0f0e" stroke="#f4f8f6" stroke-width="1.2"/>
<circle cx="327.5" cy="586.0" r="2.6" fill="#0b0f0e" stroke="#f4f8f6" stroke-width="1.2"/>
</g>
<g id="labels" font-family="'Liberation Sans', sans-serif">
<text x="307.9" y="140.2" font-size="14" text-anchor="middle" fill="#1c3a33" stroke="#1c3a33" stroke-width="0.25" textLength="50.8" lengthAdjust="spacingAndGlyphs">Network</text>
<text x="307.9" y="157.7" font-size="14" text-anchor="middle" fill="#1c3a33" stroke="#1c3a33" stroke-width="0.25" textLength="76.1" lengthAdjust="spacingAndGlyphs">connectivity</text>
<text x="490.6" y="142.3" font-size="14" text-anchor="middle" fill="#1c3a33" stroke="#1c3a33" stroke-width="0.25" textLength="66.6" lengthAdjust="spacingAndGlyphs">Payment &amp;</text>
<text x="490.6" y="159.3" font-size="14" text-anchor="middle" fill="#1c3a33" stroke="#1c3a33" stroke-width="0.25" textLength="90.4" lengthAdjust="spacingAndGlyphs">billing systems</text>
<text x="675.3" y="142.3" font-size="14" text-anchor="middle" fill="#1c3a33" stroke="#1c3a33" stroke-width="0.25" textLength="23.8" lengthAdjust="spacingAndGlyphs">Wifi</text>
<text x="794.8" y="264.8" font-size="14" text-anchor="middle" fill="#1c3a33" stroke="#1c3a33" stroke-width="0.25" textLength="89.8" lengthAdjust="spacingAndGlyphs">CCS charger**</text>
<text x="178.0" y="256.5" font-size="14" text-anchor="middle" fill="#1c3a33" stroke="#1c3a33" stroke-width="0.25" textLength="85.3" lengthAdjust="spacingAndGlyphs">Safe &amp; secure</text>
<text x="178.0" y="274.5" font-size="14" text-anchor="middle" fill="#1c3a33" stroke="#1c3a33" stroke-width="0.25" textLength="53.8" lengthAdjust="spacingAndGlyphs">parkings</text>
<text x="809.5" y="356.0" font-size="14" text-anchor="middle" fill="#1c3a33" stroke="#1c3a33" stroke-width="0.25" textLength="48.5" lengthAdjust="spacingAndGlyphs">Milence</text>
<text x="809.5" y="373.0" font-size="14" text-anchor="middle" fill="#1c3a33" stroke="#1c3a33" stroke-width="0.25" textLength="27.0" lengthAdjust="spacingAndGlyphs">arch</text>
<text x="905.0" y="406.0" font-size="14" text-anchor="middle" fill="#1c3a33" stroke="#1c3a33" stroke-width="0.25" textLength="59.0" lengthAdjust="spacingAndGlyphs">Technical</text>
<text x="905.0" y="422.5" font-size="14" text-anchor="middle" fill="#1c3a33" stroke="#1c3a33" stroke-width="0.25" textLength="67.5" lengthAdjust="spacingAndGlyphs">equipment</text>
<text x="976.7" y="483.0" font-size="14" text-anchor="end" fill="#1c3a33" stroke="#1c3a33" stroke-width="0.25" textLength="60.9" lengthAdjust="spacingAndGlyphs">Amenities</text>
<text x="976.7" y="501.0" font-size="14" text-anchor="end" fill="#1c3a33" stroke="#1c3a33" stroke-width="0.25" textLength="49.1" lengthAdjust="spacingAndGlyphs">building</text>
<text x="977.4" y="757.0" font-size="14" text-anchor="end" fill="#1c3a33" stroke="#1c3a33" stroke-width="0.25" textLength="40.7" lengthAdjust="spacingAndGlyphs">CCTV*</text>
<text x="405.0" y="767.0" font-size="14" text-anchor="start" fill="#1c3a33" stroke="#1c3a33" stroke-width="0.25" textLength="48.5" lengthAdjust="spacingAndGlyphs">Milence</text>
<text x="405.0" y="786.0" font-size="14" text-anchor="start" fill="#1c3a33" stroke="#1c3a33" stroke-width="0.25" textLength="49.0" lengthAdjust="spacingAndGlyphs">signage</text>
<text x="251.0" y="716.0" font-size="14" text-anchor="start" fill="#1c3a33" stroke="#1c3a33" stroke-width="0.25" textLength="76.5" lengthAdjust="spacingAndGlyphs">Transformer</text>
<text x="47.5" y="624.5" font-size="14" text-anchor="start" fill="#1c3a33" stroke="#1c3a33" stroke-width="0.25" textLength="102.5" lengthAdjust="spacingAndGlyphs">Sewerage, water</text>
<text x="47.5" y="642.5" font-size="14" text-anchor="start" fill="#1c3a33" stroke="#1c3a33" stroke-width="0.25" textLength="90.0" lengthAdjust="spacingAndGlyphs">supply, energy</text>
<text x="47.5" y="660.5" font-size="14" text-anchor="start" fill="#1c3a33" stroke="#1c3a33" stroke-width="0.25" textLength="86.5" lengthAdjust="spacingAndGlyphs">&amp; data cables</text>
<text x="150.0" y="801.5" font-size="14" text-anchor="start" fill="#93b7a6" stroke="#93b7a6" stroke-width="0.15" textLength="189.0" lengthAdjust="spacingAndGlyphs">**MCS Chargers will be placed</text>
<text x="161.0" y="819.5" font-size="14" text-anchor="start" fill="#93b7a6" stroke="#93b7a6" stroke-width="0.15" textLength="183.0" lengthAdjust="spacingAndGlyphs">on charging sites in the future</text>
<text x="977.0" y="845.0" font-size="14" text-anchor="end" fill="#93b7a6" stroke="#93b7a6" stroke-width="0.15" textLength="195.0" lengthAdjust="spacingAndGlyphs">*Safety &amp; Protection Equipment</text>
</g>
<g id="icons">
<polygon points="347.5,83.6 347.4,89.8 347.0,94.0 346.5,97.6 345.7,100.8 344.7,103.7 343.5,106.3 342.0,108.8 340.3,111.0 338.4,113.0 336.3,114.8 334.0,116.4 331.4,117.8 328.6,118.9 325.6,119.9 322.2,120.6 318.4,121.2 314.1,121.5 307.5,121.6 300.9,121.5 296.6,121.2 292.8,120.6 289.4,119.9 286.4,118.9 283.6,117.8 281.0,116.4 278.7,114.8 276.6,113.0 274.7,111.0 273.0,108.8 271.5,106.3 270.3,103.7 269.3,100.8 268.5,97.6 268.0,94.0 267.6,89.8 267.5,83.6 267.6,77.4 268.0,73.2 268.5,69.6 269.3,66.4 270.3,63.5 271.5,60.9 273.0,58.4 274.7,56.2 276.6,54.2 278.7,52.4 281.0,50.8 283.6,49.4 286.4,48.3 289.4,47.3 292.8,46.6 296.6,46.0 300.9,45.7 307.5,45.6 314.1,45.7 318.4,46.0 322.2,46.6 325.6,47.3 328.6,48.3 331.4,49.4 334.0,50.8 336.3,52.4 338.4,54.2 340.3,56.2 342.0,58.4 343.5,60.9 344.7,63.5 345.7,66.4 346.5,69.6 347.0,73.2 347.4,77.4" fill="#ffffff" stroke="#17443a" stroke-width="1.1" stroke-linejoin="round" />
<polygon points="530.2,85.1 530.1,91.3 529.7,95.4 529.2,99.0 528.4,102.2 527.4,105.0 526.2,107.7 524.7,110.1 523.0,112.3 521.1,114.3 519.0,116.1 516.7,117.7 514.1,119.0 511.3,120.2 508.3,121.2 504.9,121.9 501.1,122.4 496.8,122.7 490.2,122.8 483.6,122.7 479.3,122.4 475.5,121.9 472.1,121.2 469.1,120.2 466.3,119.0 463.7,117.7 461.4,116.1 459.3,114.3 457.4,112.3 455.7,110.1 454.2,107.7 453.0,105.0 452.0,102.2 451.2,99.0 450.7,95.4 450.3,91.3 450.2,85.1 450.3,78.9 450.7,74.8 451.2,71.2 452.0,68.0 453.0,65.2 454.2,62.5 455.7,60.1 457.4,57.9 459.3,55.9 461.4,54.1 463.7,52.5 466.3,51.2 469.1,50.0 472.1,49.0 475.5,48.3 479.3,47.8 483.6,47.5 490.2,47.3 496.8,47.5 501.1,47.8 504.9,48.3 508.3,49.0 511.3,50.0 514.1,51.2 516.7,52.5 519.0,54.1 521.1,55.9 523.0,57.9 524.7,60.1 526.2,62.5 527.4,65.2 528.4,68.0 529.2,71.2 529.7,74.8 530.1,78.9" fill="#ffffff" stroke="#17443a" stroke-width="1.1" stroke-linejoin="round" />
<polygon points="715.3,85.3 715.2,91.5 714.8,95.7 714.3,99.3 713.5,102.5 712.5,105.4 711.3,108.0 709.8,110.5 708.1,112.7 706.2,114.7 704.1,116.5 701.8,118.1 699.2,119.5 696.4,120.6 693.4,121.6 690.0,122.3 686.2,122.9 681.9,123.2 675.3,123.3 668.7,123.2 664.4,122.9 660.6,122.3 657.2,121.6 654.2,120.6 651.4,119.5 648.8,118.1 646.5,116.5 644.4,114.7 642.5,112.7 640.8,110.5 639.3,108.0 638.1,105.4 637.1,102.5 636.3,99.3 635.8,95.7 635.4,91.5 635.3,85.3 635.4,79.1 635.8,74.9 636.3,71.3 637.1,68.1 638.1,65.2 639.3,62.6 640.8,60.1 642.5,57.9 644.4,55.9 646.5,54.1 648.8,52.5 651.4,51.1 654.2,50.0 657.2,49.0 660.6,48.3 664.4,47.7 668.7,47.4 675.3,47.3 681.9,47.4 686.2,47.7 690.0,48.3 693.4,49.0 696.4,50.0 699.2,51.1 701.8,52.5 704.1,54.1 706.2,55.9 708.1,57.9 709.8,60.1 711.3,62.6 712.5,65.2 713.5,68.1 714.3,71.3 714.8,74.9 715.2,79.1" fill="#ffffff" stroke="#17443a" stroke-width="1.1" stroke-linejoin="round" />
<g stroke="#17443a" stroke-width="2.0" fill="none" stroke-linecap="round">
<line x1="295.5" y1="60.1" x2="295.5" y2="77.1"/>
<line x1="284.6" y1="77.1" x2="295.5" y2="77.1"/>
<line x1="295.5" y1="77.1" x2="315.0" y2="66.2"/>
<line x1="315.0" y1="66.2" x2="324.8" y2="78.8"/>
<line x1="324.8" y1="78.8" x2="315.8" y2="96.3"/>
<line x1="295.5" y1="77.1" x2="315.8" y2="96.3"/>
<line x1="295.5" y1="77.1" x2="287.6" y2="102.5"/>
<line x1="287.6" y1="102.5" x2="315.8" y2="96.3"/>
<line x1="315.0" y1="66.2" x2="303.9" y2="80.7"/>
<line x1="315.8" y1="96.3" x2="330.0" y2="96.3"/>
<line x1="315.8" y1="96.3" x2="316.0" y2="105.3"/>
<circle cx="295.5" cy="77.1" r="3.6" fill="#ffffff"/>
<circle cx="315.8" cy="96.3" r="3.6" fill="#ffffff"/>
<circle cx="315.0" cy="66.2" r="2.0" fill="#ffffff"/>
<circle cx="324.8" cy="78.8" r="2.0" fill="#ffffff"/>
<circle cx="287.6" cy="102.5" r="2.0" fill="#ffffff"/>
</g>
<g stroke="#17443a" stroke-width="1.9" fill="none" stroke-linecap="round" stroke-linejoin="round">
<path d="M503.5,70.9 L482.3,70.9 Q480.3,70.9 480.3,72.9 L480.3,84"/>
<path d="M507.5,70.9 L510,70.9 Q512,70.9 512,72.9 L512,89.8 Q512,91.8 510,91.8 L492,91.8"/>
<rect x="484.6" y="75.4" width="3.6" height="3.6" rx="1.8"/><rect x="487.6" y="75.4" width="3.6" height="3.6" rx="1.8"/>
<path d="M495.5,82.3 h11" stroke-dasharray="1.6 1.6" stroke-linecap="butt"/>
<path d="M464.4,84.7 L476.3,77.3"/>
<path d="M464.4,99.8 L472,99.8 Q476,99.8 479,97 L487,91.5"/>
<path d="M476.3,91 L482,85.6 Q484,84 486,85 Q488.5,86.6 486.5,88.8 L484,91.5"/>
<path d="M486.2,93.6 q0.4,2.6 2.6,2.2 q1.8,-0.4 1.6,-2 m0,0.6 q0.6,2 2.4,1.6 q1.6,-0.4 1.4,-2 m0,0.4 q0.6,1.6 2.2,1.2 q1.4,-0.5 1.2,-1.8"/>
</g>
<g stroke="#17443a" stroke-width="1.9" fill="none" stroke-linecap="round">
<path d="M653.9,76 Q674.5,63.5 695.1,76"/>
<path d="M659.5,82.3 Q674.5,72 689.6,82.3"/>
<path d="M665,87.9 Q674.2,81 683.3,87.9"/>
<circle cx="674.2" cy="96.6" r="3.6"/>
</g>
<polygon points="825.7,207.0 825.6,213.1 825.3,217.2 824.7,220.7 823.9,223.8 823.0,226.7 821.8,229.3 820.3,231.7 818.7,233.9 816.9,235.8 814.8,237.6 812.5,239.1 810.0,240.5 807.3,241.6 804.3,242.6 801.0,243.3 797.4,243.8 793.1,244.1 786.7,244.2 780.3,244.1 776.0,243.8 772.4,243.3 769.1,242.6 766.1,241.6 763.4,240.5 760.9,239.1 758.6,237.6 756.5,235.8 754.7,233.9 753.1,231.7 751.6,229.3 750.4,226.7 749.5,223.8 748.7,220.7 748.1,217.2 747.8,213.1 747.7,207.0 747.8,200.9 748.1,196.8 748.7,193.3 749.5,190.2 750.4,187.3 751.6,184.7 753.1,182.3 754.7,180.1 756.5,178.2 758.6,176.4 760.9,174.9 763.4,173.5 766.1,172.4 769.1,171.4 772.4,170.7 776.0,170.2 780.3,169.9 786.7,169.8 793.1,169.9 797.4,170.2 801.0,170.7 804.3,171.4 807.3,172.4 810.0,173.5 812.5,174.9 814.8,176.4 816.9,178.2 818.7,180.1 820.3,182.3 821.8,184.7 823.0,187.3 823.9,190.2 824.7,193.3 825.3,196.8 825.6,200.9" fill="#f0701c" stroke="#b8561a" stroke-width="1.0" stroke-linejoin="round" />
<path d="M780.8,219.9 Q774.2,226.5 766.1,236.9 L763.1,240.1" fill="none" stroke="#0f4335" stroke-width="5.0" stroke-linecap="round" stroke-linejoin="round" stroke-linecap="butt"/>
<path d="M772.2,200.5 Q770.9,196.8 777.8,193.9 L781.3,192.4 Q788.1,189.5 792.6,189.1 L794.8,188.9 Q799.2,188.6 802.1,190.8 L803.6,191.9 Q806.5,194.2 801.2,195.9 L798.6,196.8 Q793.3,198.6 791.2,202.4 L790.2,204.3 Q788.1,208.1 784.9,210.2 L783.3,211.2 Q780.1,213.3 777.7,210.4 L776.5,208.9 Q774.2,205.9 772.9,202.3 L772.2,200.5Z" fill="#f4f5f4" stroke="#8c9a95" stroke-width="0.6" stroke-linecap="round" stroke-linejoin="round" />
<path d="M778.1,202.4 Q776.8,198.9 780.8,197.0 L782.7,196.0 Q786.7,194.2 789.9,194.9 L791.5,195.2 Q794.8,195.9 792.4,197.9 L791.2,198.8 Q788.9,200.8 787.2,202.7 L786.4,203.7 Q784.8,205.6 782.9,206.5 L781.9,206.9 Q780.1,207.7 778.8,204.2 L778.1,202.4Z" fill="#f0701c" stroke="#b9c2be" stroke-width="0.8" stroke-linecap="round" stroke-linejoin="round" />
<path d="M780.6,216.2 Q780.1,213.3 783.3,211.2 L784.9,210.2 Q788.1,208.1 790.2,209.6 L791.2,210.4 Q793.3,211.8 793.9,216.0 L794.2,218.0 Q794.8,222.1 791.5,223.0 L789.9,223.5 Q786.7,224.3 784.6,222.9 L783.6,222.1 Q781.5,220.7 780.9,217.7 L780.6,216.2Z" fill="#dfe3e1" stroke="#8c9a95" stroke-width="0.6" stroke-linecap="round" stroke-linejoin="round" />
<path d="M790.9,203.9 Q791.8,198.6 796.5,195.8 L798.9,194.3 Q803.6,191.5 808.9,192.0 L811.6,192.2 Q816.9,192.7 815.1,195.9 L814.2,197.5 Q812.4,200.8 812.7,209.9 L812.9,214.5 Q813.2,223.6 810.8,223.9 L809.6,224.0 Q807.3,224.3 801.7,222.3 L798.9,221.2 Q793.3,219.2 791.8,216.2 L791.1,214.8 Q789.6,211.8 790.5,206.5 L790.9,203.9Z" fill="#f7f7f6" stroke="#9aa5a1" stroke-width="0.6" stroke-linecap="round" stroke-linejoin="round" />
<path d="M806.0,195.5 Q803.6,191.5 808.9,192.0 L811.6,192.2 Q816.9,192.7 815.1,195.9 L814.2,197.5 Q812.4,200.8 812.7,209.9 L812.9,214.5 Q813.2,223.6 812.0,223.6 L811.4,223.6 Q810.2,223.6 809.9,214.8 L809.8,210.4 Q809.5,201.5 807.1,197.5 L806.0,195.5Z" fill="#d9dddb" />
<path d="M812.4,208.3 Q812.4,200.1 814.2,197.7 L815.1,196.5 Q816.9,194.2 820.4,193.6 L822.2,193.3 Q825.7,192.7 828.9,194.5 L830.5,195.3 Q833.8,197.1 835.0,200.1 L835.5,201.5 Q836.7,204.5 836.1,207.1 L835.8,208.4 Q835.3,211.1 837.0,213.2 L837.9,214.2 Q839.7,216.2 839.7,218.6 L839.7,219.8 Q839.7,222.1 837.0,224.2 L835.7,225.2 Q833.0,227.3 829.5,227.3 L827.7,227.3 Q824.2,227.3 821.0,226.4 L819.4,226.0 Q816.1,225.1 814.6,223.3 L813.9,222.4 Q812.4,220.7 812.4,212.4 L812.4,208.3Z" fill="#0f4335" stroke="#0a2f26" stroke-width="0.6" stroke-linecap="round" stroke-linejoin="round" />
<circle cx="827.9" cy="205.6" r="3.2" fill="none" stroke="#2d6f5a" stroke-width="0.7"/>
<ellipse cx="824.2" cy="219.2" rx="9.0" ry="5.5" fill="#155a47" />
<ellipse cx="833.0" cy="220.7" rx="6.0" ry="5.5" fill="#0c3a2e" />
<polygon points="125.7,807.0 125.6,813.1 125.3,817.2 124.7,820.7 123.9,823.8 123.0,826.7 121.8,829.3 120.3,831.7 118.7,833.9 116.9,835.8 114.8,837.6 112.5,839.1 110.0,840.5 107.3,841.6 104.3,842.6 101.0,843.3 97.4,843.8 93.1,844.1 86.7,844.2 80.3,844.1 76.0,843.8 72.4,843.3 69.1,842.6 66.1,841.6 63.4,840.5 60.9,839.1 58.6,837.6 56.5,835.8 54.7,833.9 53.1,831.7 51.6,829.3 50.4,826.7 49.5,823.8 48.7,820.7 48.1,817.2 47.8,813.1 47.7,807.0 47.8,800.9 48.1,796.8 48.7,793.3 49.5,790.2 50.4,787.3 51.6,784.7 53.1,782.3 54.7,780.1 56.5,778.2 58.6,776.4 60.9,774.9 63.4,773.5 66.1,772.4 69.1,771.4 72.4,770.7 76.0,770.2 80.3,769.9 86.7,769.8 93.1,769.9 97.4,770.2 101.0,770.7 104.3,771.4 107.3,772.4 110.0,773.5 112.5,774.9 114.8,776.4 116.9,778.2 118.7,780.1 120.3,782.3 121.8,784.7 123.0,787.3 123.9,790.2 124.7,793.3 125.3,796.8 125.6,800.9" fill="#3f7f60" stroke="#1f5a43" stroke-width="1.0" stroke-linejoin="round" />
<path d="M64.9,821.1 L59.4,827.2 L56.0,833.4" fill="none" stroke="#0c3a2e" stroke-width="6.0" stroke-linecap="round" stroke-linejoin="round" stroke-linecap="butt"/>
<path d="M62.0,801.8 Q58.7,797.2 64.7,793.1 L67.7,791.0 Q73.8,786.9 78.1,788.3 L80.3,789.0 Q84.7,790.3 84.4,792.2 L84.3,793.2 Q84.0,795.1 78.8,797.9 L76.2,799.2 Q71.0,802.0 69.4,804.7 L68.6,806.1 Q66.9,808.8 63.6,804.1 L62.0,801.8Z" fill="#f4f5f4" stroke="#8c9a95" stroke-width="0.6" stroke-linecap="round" stroke-linejoin="round" />
<path d="M64.3,800.6 Q62.8,797.9 67.2,795.4 L69.4,794.2 Q73.8,791.7 76.8,792.4 L78.3,792.8 Q81.3,793.5 77.2,795.3 L75.1,796.3 Q71.0,798.1 69.3,800.8 L68.4,802.1 Q66.6,804.7 65.1,802.0 L64.3,800.6Z" fill="#3f7f60" stroke="#cfd8d4" stroke-width="0.7" stroke-linecap="round" stroke-linejoin="round" />
<path d="M59.8,819.7 Q57.3,814.3 66.1,807.4 L70.5,804.0 Q79.2,797.2 83.0,797.4 L85.0,797.6 Q88.8,797.9 91.5,804.4 L92.9,807.7 Q95.6,814.3 85.8,820.3 L80.9,823.3 Q71.0,829.3 68.0,828.8 L66.5,828.5 Q63.5,827.9 61.0,822.5 L59.8,819.7Z" fill="#0f4a39" stroke="#0a2f26" stroke-width="0.6" stroke-linecap="round" stroke-linejoin="round" />
<path d="M84.3,797.3 Q84.0,795.1 85.4,792.9 L86.1,791.8 Q87.4,789.6 90.7,789.4 L92.3,789.2 Q95.6,789.0 99.2,790.1 L101.0,790.6 Q104.5,791.7 100.4,793.9 L98.4,795.0 Q94.3,797.2 94.3,801.8 L94.3,804.1 Q94.3,808.8 95.9,811.8 L96.7,813.3 Q98.4,816.3 96.7,815.5 L95.9,815.1 Q94.3,814.3 91.5,811.5 L90.2,810.2 Q87.4,807.4 86.3,804.7 L85.8,803.3 Q84.7,800.6 84.4,798.4 L84.3,797.3Z" fill="#f7f7f6" stroke="#9aa5a1" stroke-width="0.5" stroke-linecap="round" stroke-linejoin="round" />
<path d="M93.6,803.6 Q92.2,799.2 98.0,795.9 L100.8,794.3 Q106.6,791.0 114.2,792.7 L118.1,793.5 Q125.7,795.1 131.2,797.3 L133.9,798.4 Q139.4,800.6 140.7,802.2 L141.4,803.0 Q142.8,804.7 141.4,811.3 L140.7,814.5 Q139.4,821.1 137.2,823.0 L136.1,824.0 Q133.9,825.9 130.1,825.1 L128.2,824.7 Q124.3,823.8 115.6,821.1 L111.2,819.7 Q102.5,817.0 99.7,814.3 L98.4,812.9 Q95.6,810.2 94.3,805.8 L93.6,803.6Z" fill="#14553f" stroke="#0a2f26" stroke-width="0.6" stroke-linecap="round" stroke-linejoin="round" />
<path d="M124.1,800.6 Q125.7,795.1 131.2,797.3 L133.9,798.4 Q139.4,800.6 140.7,802.2 L141.4,803.0 Q142.8,804.7 141.4,811.3 L140.7,814.5 Q139.4,821.1 137.2,823.0 L136.1,824.0 Q133.9,825.9 130.1,825.1 L128.2,824.7 Q124.3,823.8 123.2,817.8 L122.7,814.8 Q121.6,808.8 123.2,803.3 L124.1,800.6Z" fill="#0e4030" />
<circle cx="125.7" cy="808.8" r="2.2" fill="#1d6a52" stroke="#0a2f26" stroke-width="0.4"/>
<circle cx="136.0" cy="806.7" r="2.2" fill="#1d6a52" stroke="#0a2f26" stroke-width="0.4"/>
<circle cx="131.9" cy="814.3" r="2.2" fill="#1d6a52" stroke="#0a2f26" stroke-width="0.4"/>
<circle cx="131.2" cy="820.4" r="2.2" fill="#1d6a52" stroke="#0a2f26" stroke-width="0.4"/>
</g>
</svg>
</body></html>
